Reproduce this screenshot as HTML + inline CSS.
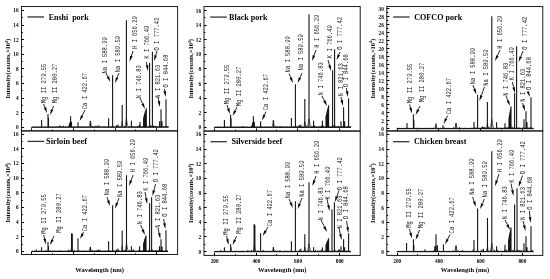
<!DOCTYPE html>
<html><head><meta charset="utf-8"><title>LIBS spectra of meat samples</title>
<style>
html,body{margin:0;padding:0;background:#fff;}
body{width:550px;height:279px;overflow:hidden;}
svg{display:block}
text{font-family:"Liberation Serif","DejaVu Serif",serif;}
.lab{font-family:"Liberation Mono","DejaVu Sans Mono",monospace;font-size:6.80px;fill:#222;}
.tk{font-size:5.3px;font-weight:bold;fill:#000;}
.ttl{font-size:8.4px;font-weight:bold;fill:#000;}
.axl{font-size:6.4px;font-weight:bold;fill:#000;}
.xl{font-size:6.6px;font-weight:bold;fill:#000;}
.fr{fill:none;stroke:#111;stroke-width:0.95;}
.t{stroke:#000;stroke-width:1;}
.spec{fill:none;stroke:#000;stroke-width:0.6;stroke-linejoin:miter;stroke-miterlimit:20;}
.ash{stroke:#000;stroke-width:0.85;}
.bl{stroke:#000;stroke-width:1.0;}
.pk{fill:none;stroke:#151515;stroke-width:1.1;}
.ahd{fill:#000;}
.lg{stroke:#333;stroke-width:1.3;}
</style></head><body>
<svg width="550" height="279" viewBox="0 0 550 279">
<rect width="550" height="279" fill="#fff"/>

<g>
<rect x="21.5" y="6.55" width="156.10" height="124.25" class="fr"/>
<line x1="21.5" y1="127.50" x2="24.1" y2="127.50" class="t"/>
<text x="18.60" y="129.20" text-anchor="end" class="tk">0</text>
<line x1="21.5" y1="119.50" x2="22.8" y2="119.50" class="t"/>
<line x1="21.5" y1="112.50" x2="24.1" y2="112.50" class="t"/>
<text x="18.60" y="114.60" text-anchor="end" class="tk">2</text>
<line x1="21.5" y1="105.50" x2="22.8" y2="105.50" class="t"/>
<line x1="21.5" y1="98.50" x2="24.1" y2="98.50" class="t"/>
<text x="18.60" y="100.00" text-anchor="end" class="tk">4</text>
<line x1="21.5" y1="90.50" x2="22.8" y2="90.50" class="t"/>
<line x1="21.5" y1="83.50" x2="24.1" y2="83.50" class="t"/>
<text x="18.60" y="85.40" text-anchor="end" class="tk">6</text>
<line x1="21.5" y1="76.50" x2="22.8" y2="76.50" class="t"/>
<line x1="21.5" y1="68.50" x2="24.1" y2="68.50" class="t"/>
<text x="18.60" y="70.80" text-anchor="end" class="tk">8</text>
<line x1="21.5" y1="61.50" x2="22.8" y2="61.50" class="t"/>
<line x1="21.5" y1="54.50" x2="24.1" y2="54.50" class="t"/>
<text x="18.60" y="56.20" text-anchor="end" class="tk">10</text>
<line x1="21.5" y1="46.50" x2="22.8" y2="46.50" class="t"/>
<line x1="21.5" y1="39.50" x2="24.1" y2="39.50" class="t"/>
<text x="18.60" y="41.60" text-anchor="end" class="tk">12</text>
<line x1="21.5" y1="32.50" x2="22.8" y2="32.50" class="t"/>
<line x1="21.5" y1="25.50" x2="24.1" y2="25.50" class="t"/>
<text x="18.60" y="27.00" text-anchor="end" class="tk">14</text>
<line x1="21.5" y1="17.50" x2="22.8" y2="17.50" class="t"/>
<line x1="21.5" y1="10.50" x2="24.1" y2="10.50" class="t"/>
<text x="18.60" y="12.40" text-anchor="end" class="tk">16</text>
<line x1="31.50" y1="130.8" x2="31.50" y2="128.30" class="t"/>
<line x1="52.50" y1="130.8" x2="52.50" y2="129.60" class="t"/>
<line x1="73.50" y1="130.8" x2="73.50" y2="128.30" class="t"/>
<line x1="94.50" y1="130.8" x2="94.50" y2="129.60" class="t"/>
<line x1="115.50" y1="130.8" x2="115.50" y2="128.30" class="t"/>
<line x1="135.50" y1="130.8" x2="135.50" y2="129.60" class="t"/>
<line x1="156.50" y1="130.8" x2="156.50" y2="128.30" class="t"/>
<line x1="31.60" y1="127.25" x2="168.60" y2="127.25" class="bl"/><polyline points="31.60,127.90 31.60,126.99 31.85,126.87 32.10,126.91 32.35,127.08 32.60,127.09 32.85,127.08 33.10,126.95 33.35,127.06 33.60,126.88 33.85,126.89 34.10,126.75 34.35,126.79 34.60,127.05 34.85,126.99 35.10,127.03 35.35,126.87 35.60,126.90 35.85,127.08 36.10,126.85 36.35,126.98 36.60,126.93 36.85,126.81 37.10,127.01 37.35,126.90 37.60,126.83 37.85,126.73 38.10,126.94 38.35,127.04 38.60,127.09 38.85,126.81 39.10,126.77 39.35,126.84 39.60,126.88 39.85,126.78 40.10,126.92 40.35,127.08 40.60,126.85 40.85,126.78 41.10,126.95 41.35,127.09 41.60,127.03 41.85,127.08 42.10,127.05 42.35,126.95 42.60,127.07 42.85,126.88 43.10,126.78 43.35,126.99 43.60,126.96 43.85,126.72 44.10,127.03 44.35,127.01 44.60,126.86 44.85,127.10 45.10,126.95 45.35,126.71 45.60,126.89 45.85,126.82 46.10,126.73 46.35,126.74 46.60,126.94 46.85,127.06 47.10,127.07 47.35,127.01 47.60,126.96 47.85,127.10 48.10,127.06 48.35,127.09 48.60,126.84 48.85,126.99 49.10,126.95 49.35,126.74 49.60,126.90 49.85,127.06 50.10,126.95 50.35,126.75 50.60,127.09 50.85,126.87 51.10,126.87 51.35,126.87 51.60,126.73 51.85,126.99 52.10,127.03 52.35,126.87 52.60,126.96 52.85,126.75 53.10,126.73 53.35,126.74 53.60,127.00 53.85,126.94 54.10,127.09 54.35,126.99 54.60,126.68 54.85,126.68 55.10,126.68 55.35,127.00 55.60,127.01 55.85,126.82 56.10,126.72 56.35,126.81 56.60,127.06 56.85,126.69 57.10,126.76 57.35,127.02 57.60,126.95 57.85,126.66 58.10,126.92 58.35,126.77 58.60,127.04 58.85,126.68 59.10,127.03 59.35,126.65 59.60,126.94 59.85,125.58 60.10,126.80 60.35,126.67 60.60,126.69 60.85,127.00 61.10,126.96 61.35,126.82 61.60,126.90 61.85,126.67 62.10,126.88 62.35,126.67 62.60,126.66 62.85,126.85 63.10,127.09 63.35,125.81 63.60,127.02 63.85,126.75 64.10,126.94 64.35,126.83 64.60,127.05 64.85,126.98 65.10,126.73 65.35,126.83 65.60,126.66 65.85,126.80 66.10,126.85 66.35,126.88 66.60,126.87 66.85,126.76 67.10,126.64 67.35,126.82 67.60,126.68 67.85,127.04 68.10,127.06 68.35,127.06 68.60,126.71 68.85,127.02 69.10,126.77 69.35,126.66 69.60,126.71 69.85,125.97 70.10,124.79 70.35,123.14 70.60,121.00 70.85,123.14 71.10,124.79 71.35,125.97 71.60,126.71 71.85,127.06 72.10,126.70 72.35,127.05 72.60,127.08 72.85,126.96 73.10,126.88 73.35,126.68 73.60,127.02 73.85,126.80 74.10,127.05 74.35,126.74 74.60,127.06 74.85,126.77 75.10,127.06 75.35,127.06 75.60,126.86 75.85,126.81 76.10,126.96 76.35,126.82 76.60,127.04 76.85,127.07 77.10,126.93 77.35,126.69 77.60,126.83 77.85,126.54 78.10,127.09 78.35,126.80 78.60,126.84 78.85,127.04 79.10,126.87 79.35,126.65 79.60,126.83 79.85,126.57 80.10,126.65 80.35,126.75 80.60,126.91 80.85,127.03 81.10,126.69 81.35,127.01 81.60,126.64 81.85,126.73 82.10,126.97 82.35,126.85 82.60,126.85 82.85,126.57 83.10,126.80 83.35,126.56 83.60,126.33 83.85,126.83 84.10,126.99 84.35,127.10 84.60,127.05 84.85,126.62 85.10,126.97 85.35,126.80 85.60,126.73 85.85,126.60 86.10,126.91 86.35,127.01 86.60,126.73 86.85,126.62 87.10,126.74 87.35,126.63 87.60,126.80 87.85,126.62 88.10,126.62 88.35,126.58 88.60,126.70 88.85,127.07 89.10,126.83 89.35,126.30 89.60,125.47 89.85,124.31 90.10,122.79 90.35,120.92 90.60,122.09 90.85,123.74 91.10,125.05 91.35,126.01 91.60,126.65 91.85,126.52 92.10,126.87 92.35,126.69 92.60,126.73 92.85,127.05 93.10,126.95 93.35,126.92 93.60,127.09 93.85,126.94 94.10,126.68 94.35,126.92 94.60,126.82 94.85,127.03 95.10,126.98 95.35,125.84 95.60,126.60 95.85,126.83 96.10,126.97 96.35,126.97 96.60,127.01 96.85,126.52 97.10,126.60 97.35,126.56 97.60,126.96 97.85,126.80 98.10,126.80 98.35,126.91 98.60,126.89 98.85,125.45 99.10,126.58 99.35,126.52 99.60,126.54 99.85,126.87 100.10,126.48 100.35,126.87 100.60,126.93 100.85,127.04 101.10,126.92 101.35,126.94 101.60,126.78 101.85,126.86 102.10,126.54 102.35,126.70 102.60,126.50 102.85,126.64 103.10,126.63 103.35,126.62 103.60,126.92 103.85,126.51 104.10,126.80 104.35,126.91 104.60,126.47 104.85,126.68 105.10,126.74 105.35,126.99 105.60,126.97 105.85,126.78 106.10,126.51 106.35,126.81 106.60,126.97 106.85,126.88 107.10,126.94 107.35,126.73 107.60,126.61 107.85,126.83 108.10,126.85 108.35,127.06 108.60,126.46 108.85,126.77 109.10,126.53 109.35,126.92 109.60,126.83 109.85,126.47 110.10,126.47 110.35,126.63 110.60,126.78 110.85,127.10 111.10,126.48 111.35,126.53 111.60,126.93 111.85,127.00 112.10,126.64 112.35,126.61 112.60,126.58 112.85,126.73 113.10,126.57 113.35,126.48 113.60,126.89 113.85,126.93 114.10,126.62 114.35,127.05 114.60,126.70 114.85,126.95 115.10,127.09 115.35,126.78 115.60,126.66 115.85,126.77 116.10,126.93 116.35,126.61 116.60,127.08 116.85,126.63 117.10,126.92 117.35,126.46 117.60,127.08 117.85,126.81 118.10,126.96 118.35,126.58 118.60,126.96 118.85,126.88 119.10,126.94 119.35,126.57 119.60,126.43 119.85,126.97 120.10,126.81 120.35,126.43 120.60,126.82 120.85,126.41 121.10,127.06 121.35,126.63 121.60,125.55 121.85,123.78 122.10,121.24 122.35,121.81 122.60,124.19 122.85,125.82 123.10,126.76 123.35,127.09 123.60,126.85 123.85,127.01 124.10,126.95 124.35,126.51 124.60,126.67 124.85,126.17 125.10,125.46 125.35,124.53 125.60,123.37 125.85,121.97 126.10,120.32 126.35,118.41 126.60,119.59 126.85,121.34 127.10,122.84 127.35,124.10 127.60,125.12 127.85,125.92 128.10,126.42 128.35,126.05 128.60,126.75 128.85,126.39 129.10,126.91 129.35,126.73 129.60,126.96 129.85,126.55 130.10,126.52 130.35,126.86 130.60,126.83 130.85,127.04 131.10,126.54 131.35,126.22 131.60,126.86 131.85,126.44 132.10,126.90 132.35,127.03 132.60,126.56 132.85,126.92 133.10,126.63 133.35,126.53 133.60,126.60 133.85,126.46 134.10,126.67 134.35,126.54 134.60,126.91 134.85,126.98 135.10,126.66 135.35,126.80 135.60,126.71 135.85,126.48 136.10,126.34 136.35,126.73 136.60,126.45 136.85,127.07 137.10,127.01 137.35,126.35 137.60,126.38 137.85,126.43 138.10,126.90 138.35,126.36 138.60,126.64 138.85,126.93 139.10,126.99 139.35,126.90 139.60,126.59 139.85,127.09 140.10,126.57 140.35,126.85 140.60,126.47 140.85,127.05 141.10,126.79 141.35,126.59 141.60,126.97 141.85,126.78 142.10,126.86 142.35,126.85 142.60,126.82 142.85,126.41 143.10,126.81 143.35,126.52 143.60,127.10 143.85,126.76 144.10,126.77 144.35,126.73 144.60,127.09 144.85,126.58 145.10,127.03 145.35,126.80 145.60,126.98 145.85,126.68 146.10,127.01 146.35,126.45 146.60,126.94 146.85,126.33 147.10,126.71 147.35,126.35 147.60,126.36 147.85,126.43 148.10,126.46 148.35,126.77 148.60,126.42 148.85,126.92 149.10,126.67 149.35,127.00 149.60,126.50 149.85,127.07 150.10,125.22 150.35,127.00 150.60,126.64 150.85,126.85 151.10,126.62 151.35,126.55 151.60,125.81 151.85,126.69 152.10,126.46 152.35,126.72 152.60,126.70 152.85,126.99 153.10,127.02 153.35,125.72 153.60,127.03 153.85,126.45 154.10,127.05 154.35,126.78 154.60,126.99 154.85,126.26 155.10,126.41 155.35,126.27 155.60,126.29 155.85,126.96 156.10,126.31 156.35,126.80 156.60,126.96 156.85,126.87 157.10,126.98 157.35,126.31 157.60,126.88 157.85,126.55 158.10,126.96 158.35,126.52 158.60,126.95 158.85,127.00 159.10,126.55 159.35,126.35 159.60,126.60 159.85,127.01 160.10,126.55 160.35,126.41 160.60,126.24 160.85,126.79 161.10,126.72 161.35,125.22 161.60,126.88 161.85,126.24 162.10,126.52 162.35,126.87 162.60,126.56 162.85,126.65 163.10,126.98 163.35,126.52 163.60,126.79 163.85,126.79 164.10,126.59 164.35,126.92 164.60,126.68 164.85,126.27 165.10,126.97 165.35,126.53 165.60,126.41 165.85,125.90 166.10,126.60 166.35,126.52 166.60,126.26 166.85,126.88 167.10,127.06 167.35,126.74 167.60,127.05 167.85,127.09 168.10,126.26 168.35,126.92 168.60,126.64" class="spec"/><path d="M41.60,127.10V119.90 M48.00,127.10V113.90 M48.50,127.10V117.80 M70.60,127.10V116.30 M69.60,127.10V122.80 M71.50,127.10V121.80 M78.00,127.10V122.30 M108.60,127.10V118.30 M112.60,127.10V75.30 M122.20,127.10V104.90 M126.40,127.10V20.30 M131.40,127.10V120.70 M140.00,127.10V121.90 M143.60,127.10V117.45 M144.05,127.10V115.63 M144.50,127.10V114.05 M144.95,127.10V112.55 M145.40,127.10V111.10 M145.85,127.10V109.68 M146.30,127.10V108.30 M149.60,127.10V62.70 M152.40,127.10V51.70 M159.60,127.10V121.30 M161.00,127.10V109.30 M162.00,127.10V121.30 M166.00,127.10V99.30 M116.50,127.10V125.20 M118.00,127.10V124.40 M139.20,127.10V125.00 M60.00,127.10V126.20 M68.80,127.10V125.60 M92.60,127.10V126.10 M97.10,127.10V125.80 M125.60,127.10V125.90 M152.10,127.10V125.40 M155.60,127.10V125.80 M70.60,127.10V121.60 M90.40,127.10V121.10 M122.20,127.10V120.60 M126.40,127.10V118.60" class="pk"/>
<text transform="translate(46.24,103.20) rotate(-90) scale(0.809,1)" x="0" y="0" class="lab">Mg II 279.55</text>
<text transform="translate(57.24,103.20) rotate(-90) scale(0.809,1)" x="0" y="0" class="lab">Mg II 280.27</text>
<text transform="translate(86.74,109.20) rotate(-90) scale(0.809,1)" x="0" y="0" class="lab">Ca I 422.67</text>
<text transform="translate(106.74,73.50) rotate(-90) scale(0.809,1)" x="0" y="0" class="lab">Na I 588.99</text>
<text transform="translate(119.74,72.20) rotate(-90) scale(0.809,1)" x="0" y="0" class="lab">Na I 589.59</text>
<text transform="translate(136.64,49.20) rotate(-90) scale(0.809,1)" x="0" y="0" class="lab">H I 656.29</text>
<text transform="translate(148.74,58.70) rotate(-90) scale(0.809,1)" x="0" y="0" class="lab">K I 766.49</text>
<text transform="translate(159.24,50.50) rotate(-90) scale(0.809,1)" x="0" y="0" class="lab">O I 777.42</text>
<text transform="translate(140.74,98.20) rotate(-90) scale(0.809,1)" x="0" y="0" class="lab">N I 746.83</text>
<text transform="translate(159.74,97.70) rotate(-90) scale(0.809,1)" x="0" y="0" class="lab">N I 821.63</text>
<text transform="translate(167.54,87.50) rotate(-90) scale(0.809,1)" x="0" y="0" class="lab">O I 844.68</text>
<line x1="43.60" y1="104.00" x2="44.95" y2="107.57" class="ash"/><polygon points="47.00,113.00 43.73,108.03 46.17,107.11" class="ahd"/>
<line x1="53.60" y1="106.00" x2="52.15" y2="109.61" class="ash"/><polygon points="50.00,115.00 50.95,109.13 53.36,110.10" class="ahd"/>
<line x1="85.00" y1="110.00" x2="82.16" y2="115.79" class="ash"/><polygon points="79.60,121.00 80.99,115.22 83.32,116.37" class="ahd"/>
<line x1="106.00" y1="73.00" x2="107.85" y2="76.79" class="ash"/><polygon points="110.40,82.00 106.68,77.36 109.02,76.22" class="ahd"/>
<line x1="119.00" y1="73.00" x2="117.15" y2="77.61" class="ash"/><polygon points="115.00,83.00 115.95,77.13 118.36,78.10" class="ahd"/>
<line x1="133.00" y1="51.00" x2="131.37" y2="56.08" class="ash"/><polygon points="129.60,61.60 130.13,55.68 132.61,56.47" class="ahd"/>
<line x1="146.40" y1="62.00" x2="146.98" y2="65.29" class="ash"/><polygon points="148.00,71.00 145.70,65.52 148.26,65.06" class="ahd"/>
<line x1="157.00" y1="51.00" x2="155.67" y2="55.44" class="ash"/><polygon points="154.00,61.00 154.42,55.07 156.91,55.82" class="ahd"/>
<line x1="140.00" y1="98.00" x2="142.60" y2="103.72" class="ash"/><polygon points="145.00,109.00 141.42,104.26 143.78,103.18" class="ahd"/>
<line x1="158.00" y1="97.00" x2="158.86" y2="101.31" class="ash"/><polygon points="160.00,107.00 157.59,101.57 160.14,101.06" class="ahd"/>
<line x1="164.40" y1="89.00" x2="164.74" y2="91.26" class="ash"/><polygon points="165.60,97.00 163.45,91.46 166.03,91.07" class="ahd"/>
<line x1="27.5" y1="16.95" x2="44" y2="16.95" class="lg"/>
<text x="48.7" y="20.0" textLength="39.9" lengthAdjust="spacingAndGlyphs" class="ttl">Enshi&#160;&#160;pork</text>
<text transform="translate(10.4,68.68) rotate(-90)" text-anchor="middle" textLength="59.5" lengthAdjust="spacingAndGlyphs" class="axl">Intensity(counts,×10<tspan dy="-2.2" font-size="4">4</tspan><tspan dy="2.2">)</tspan></text>
</g>
<g>
<rect x="204.0" y="6.55" width="156.20" height="124.45" class="fr"/>
<line x1="204.0" y1="127.50" x2="206.6" y2="127.50" class="t"/>
<text x="201.10" y="129.30" text-anchor="end" class="tk">0</text>
<line x1="204.0" y1="120.50" x2="205.3" y2="120.50" class="t"/>
<line x1="204.0" y1="112.50" x2="206.6" y2="112.50" class="t"/>
<text x="201.10" y="114.70" text-anchor="end" class="tk">2</text>
<line x1="204.0" y1="105.50" x2="205.3" y2="105.50" class="t"/>
<line x1="204.0" y1="98.50" x2="206.6" y2="98.50" class="t"/>
<text x="201.10" y="100.10" text-anchor="end" class="tk">4</text>
<line x1="204.0" y1="90.50" x2="205.3" y2="90.50" class="t"/>
<line x1="204.0" y1="83.50" x2="206.6" y2="83.50" class="t"/>
<text x="201.10" y="85.50" text-anchor="end" class="tk">6</text>
<line x1="204.0" y1="76.50" x2="205.3" y2="76.50" class="t"/>
<line x1="204.0" y1="68.50" x2="206.6" y2="68.50" class="t"/>
<text x="201.10" y="70.90" text-anchor="end" class="tk">8</text>
<line x1="204.0" y1="61.50" x2="205.3" y2="61.50" class="t"/>
<line x1="204.0" y1="54.50" x2="206.6" y2="54.50" class="t"/>
<text x="201.10" y="56.30" text-anchor="end" class="tk">10</text>
<line x1="204.0" y1="47.50" x2="205.3" y2="47.50" class="t"/>
<line x1="204.0" y1="39.50" x2="206.6" y2="39.50" class="t"/>
<text x="201.10" y="41.70" text-anchor="end" class="tk">12</text>
<line x1="204.0" y1="32.50" x2="205.3" y2="32.50" class="t"/>
<line x1="204.0" y1="25.50" x2="206.6" y2="25.50" class="t"/>
<text x="201.10" y="27.10" text-anchor="end" class="tk">14</text>
<line x1="204.0" y1="17.50" x2="205.3" y2="17.50" class="t"/>
<line x1="204.0" y1="10.50" x2="206.6" y2="10.50" class="t"/>
<text x="201.10" y="12.50" text-anchor="end" class="tk">16</text>
<line x1="214.50" y1="131.0" x2="214.50" y2="128.50" class="t"/>
<line x1="235.50" y1="131.0" x2="235.50" y2="129.80" class="t"/>
<line x1="256.50" y1="131.0" x2="256.50" y2="128.50" class="t"/>
<line x1="276.50" y1="131.0" x2="276.50" y2="129.80" class="t"/>
<line x1="297.50" y1="131.0" x2="297.50" y2="128.50" class="t"/>
<line x1="318.50" y1="131.0" x2="318.50" y2="129.80" class="t"/>
<line x1="339.50" y1="131.0" x2="339.50" y2="128.50" class="t"/>
<line x1="214.40" y1="127.35" x2="351.00" y2="127.35" class="bl"/><polyline points="214.40,128.00 214.40,126.92 214.65,127.09 214.90,127.18 215.15,126.92 215.40,127.20 215.65,126.94 215.90,126.94 216.15,127.12 216.40,127.12 216.65,127.08 216.90,126.95 217.15,126.94 217.40,127.00 217.65,126.91 217.90,127.10 218.15,126.85 218.40,126.88 218.65,127.10 218.90,126.93 219.15,126.92 219.40,126.87 219.65,127.11 219.90,126.97 220.15,126.95 220.40,127.02 220.65,126.94 220.90,127.04 221.15,126.98 221.40,127.12 221.65,127.17 221.90,127.15 222.15,127.16 222.40,127.07 222.65,127.19 222.90,126.93 223.15,126.93 223.40,127.17 223.65,127.06 223.90,126.88 224.15,127.17 224.40,126.84 224.65,127.16 224.90,127.16 225.15,126.87 225.40,126.95 225.65,126.95 225.90,127.16 226.15,126.90 226.40,127.07 226.65,127.19 226.90,127.09 227.15,127.05 227.40,126.81 227.65,126.86 227.90,127.19 228.15,127.02 228.40,127.06 228.65,126.98 228.90,126.85 229.15,126.86 229.40,127.20 229.65,126.89 229.90,127.20 230.15,127.00 230.40,127.12 230.65,127.06 230.90,127.09 231.15,127.08 231.40,126.91 231.65,127.15 231.90,127.17 232.15,126.91 232.40,126.93 232.65,127.03 232.90,126.82 233.15,126.82 233.40,127.11 233.65,126.81 233.90,127.04 234.15,127.10 234.40,126.97 234.65,126.88 234.90,127.05 235.15,127.13 235.40,126.91 235.65,127.13 235.90,126.86 236.15,127.14 236.40,126.81 236.65,127.12 236.90,126.89 237.15,127.13 237.40,127.09 237.65,126.97 237.90,127.05 238.15,126.77 238.40,127.15 238.65,127.15 238.90,126.76 239.15,126.87 239.40,127.11 239.65,127.15 239.90,127.02 240.15,127.02 240.40,126.88 240.65,126.91 240.90,127.14 241.15,127.01 241.40,126.78 241.65,126.94 241.90,127.01 242.15,126.87 242.40,126.84 242.65,126.80 242.90,126.90 243.15,127.05 243.40,127.15 243.65,126.83 243.90,126.90 244.15,127.00 244.40,126.91 244.65,126.88 244.90,127.11 245.15,126.83 245.40,126.97 245.65,127.18 245.90,127.12 246.15,126.75 246.40,127.15 246.65,126.94 246.90,126.95 247.15,126.80 247.40,127.00 247.65,127.10 247.90,127.01 248.15,127.14 248.40,127.03 248.65,127.07 248.90,127.19 249.15,126.99 249.40,127.03 249.65,127.09 249.90,126.74 250.15,127.09 250.40,127.01 250.65,127.14 250.90,126.80 251.15,126.97 251.40,127.09 251.65,127.02 251.90,126.79 252.15,126.97 252.40,126.81 252.65,126.05 252.90,124.85 253.15,123.18 253.40,121.00 253.65,123.18 253.90,124.85 254.15,126.05 254.40,126.81 254.65,126.86 254.90,126.72 255.15,127.17 255.40,126.73 255.65,127.13 255.90,126.86 256.15,126.71 256.40,127.07 256.65,127.13 256.90,126.80 257.15,127.12 257.40,126.79 257.65,126.73 257.90,126.79 258.15,126.73 258.40,126.76 258.65,126.83 258.90,126.81 259.15,126.73 259.40,127.06 259.65,127.13 259.90,127.17 260.15,127.12 260.40,126.93 260.65,125.48 260.90,126.95 261.15,126.84 261.40,127.00 261.65,126.68 261.90,126.86 262.15,127.18 262.40,126.83 262.65,127.02 262.90,126.92 263.15,126.71 263.40,126.81 263.65,127.01 263.90,127.00 264.15,126.91 264.40,127.08 264.65,126.97 264.90,126.74 265.15,126.74 265.40,126.92 265.65,126.92 265.90,126.84 266.15,127.02 266.40,127.03 266.65,126.84 266.90,127.18 267.15,126.70 267.40,127.17 267.65,127.20 267.90,126.68 268.15,126.83 268.40,126.68 268.65,126.85 268.90,126.80 269.15,126.81 269.40,126.82 269.65,126.76 269.90,127.10 270.15,126.76 270.40,126.82 270.65,126.73 270.90,126.88 271.15,127.03 271.40,127.02 271.65,126.83 271.90,127.14 272.15,126.81 272.40,126.18 272.65,125.20 272.90,123.85 273.15,122.13 273.40,120.00 273.65,122.13 273.90,123.85 274.15,125.20 274.40,126.18 274.65,126.63 274.90,126.68 275.15,127.19 275.40,127.06 275.65,127.09 275.90,126.74 276.15,126.69 276.40,127.15 276.65,126.77 276.90,126.64 277.15,126.62 277.40,126.22 277.65,126.71 277.90,127.01 278.15,127.10 278.40,126.90 278.65,126.98 278.90,126.93 279.15,127.11 279.40,126.98 279.65,126.81 279.90,126.96 280.15,126.62 280.40,126.85 280.65,127.16 280.90,126.77 281.15,126.99 281.40,126.59 281.65,126.83 281.90,126.93 282.15,126.97 282.40,126.82 282.65,126.70 282.90,127.20 283.15,126.94 283.40,126.69 283.65,127.17 283.90,126.69 284.15,126.84 284.40,126.66 284.65,126.77 284.90,126.98 285.15,126.85 285.40,127.07 285.65,126.61 285.90,126.81 286.15,126.90 286.40,127.04 286.65,126.69 286.90,127.14 287.15,126.70 287.40,126.83 287.65,126.63 287.90,126.89 288.15,127.08 288.40,127.08 288.65,126.96 288.90,126.94 289.15,127.10 289.40,126.55 289.65,127.13 289.90,126.69 290.15,126.81 290.40,126.81 290.65,126.55 290.90,126.88 291.15,127.03 291.40,126.92 291.65,126.69 291.90,126.56 292.15,127.17 292.40,127.08 292.65,127.17 292.90,126.62 293.15,126.57 293.40,127.16 293.65,126.93 293.90,126.56 294.15,126.82 294.40,126.56 294.65,126.94 294.90,127.09 295.15,126.53 295.40,127.17 295.65,126.96 295.90,126.59 296.15,127.17 296.40,126.72 296.65,126.53 296.90,127.10 297.15,126.56 297.40,127.00 297.65,126.68 297.90,126.98 298.15,127.11 298.40,127.08 298.65,127.10 298.90,127.19 299.15,125.67 299.40,127.05 299.65,126.60 299.90,127.10 300.15,127.13 300.40,126.61 300.65,126.88 300.90,126.63 301.15,126.76 301.40,127.04 301.65,126.70 301.90,127.10 302.15,127.01 302.40,127.09 302.65,126.61 302.90,127.08 303.15,126.98 303.40,127.12 303.65,127.16 303.90,126.73 304.15,125.91 304.40,124.25 304.65,121.83 304.90,121.25 305.15,123.83 305.40,125.63 305.65,126.68 305.90,125.29 306.15,126.95 306.40,127.20 306.65,126.82 306.90,126.89 307.15,126.84 307.40,126.38 307.65,125.71 307.90,124.81 308.15,123.68 308.40,122.31 308.65,120.70 308.90,118.82 309.15,119.22 309.40,121.04 309.65,122.61 309.90,123.93 310.15,125.01 310.40,125.86 310.65,126.49 310.90,126.85 311.15,127.00 311.40,126.58 311.65,127.08 311.90,125.98 312.15,126.87 312.40,127.11 312.65,126.59 312.90,126.96 313.15,126.91 313.40,127.15 313.65,126.48 313.90,126.81 314.15,125.34 314.40,127.03 314.65,127.12 314.90,126.44 315.15,126.67 315.40,127.19 315.65,126.76 315.90,126.67 316.15,126.54 316.40,127.17 316.65,126.82 316.90,126.99 317.15,126.89 317.40,126.75 317.65,127.09 317.90,126.63 318.15,126.57 318.40,126.90 318.65,126.55 318.90,126.90 319.15,126.60 319.40,127.01 319.65,126.86 319.90,126.58 320.15,126.57 320.40,127.16 320.65,126.45 320.90,127.01 321.15,126.71 321.40,126.79 321.65,126.86 321.90,127.18 322.15,126.44 322.40,126.46 322.65,126.56 322.90,125.54 323.15,126.99 323.40,126.98 323.65,126.47 323.90,127.00 324.15,126.86 324.40,126.97 324.65,126.69 324.90,126.73 325.15,126.79 325.40,126.83 325.65,127.08 325.90,127.10 326.15,126.87 326.40,127.01 326.65,126.76 326.90,126.71 327.15,126.68 327.40,126.63 327.65,126.76 327.90,126.82 328.15,127.00 328.40,126.79 328.65,126.20 328.90,126.50 329.15,126.75 329.40,126.97 329.65,126.96 329.90,127.07 330.15,126.49 330.40,127.15 330.65,126.84 330.90,127.11 331.15,126.41 331.40,127.07 331.65,126.91 331.90,126.69 332.15,126.52 332.40,126.59 332.65,126.57 332.90,126.55 333.15,126.44 333.40,125.33 333.65,126.71 333.90,126.40 334.15,126.85 334.40,126.47 334.65,126.88 334.90,126.82 335.15,126.96 335.40,126.74 335.65,126.93 335.90,126.49 336.15,126.83 336.40,126.94 336.65,126.72 336.90,127.13 337.15,126.93 337.40,126.49 337.65,127.03 337.90,126.36 338.15,126.72 338.40,126.42 338.65,126.74 338.90,126.76 339.15,126.62 339.40,126.89 339.65,126.90 339.90,126.62 340.15,127.12 340.40,126.86 340.65,126.71 340.90,126.37 341.15,126.82 341.40,126.34 341.65,126.74 341.90,127.05 342.15,126.35 342.40,126.76 342.65,126.43 342.90,126.49 343.15,126.43 343.40,127.06 343.65,126.75 343.90,127.04 344.15,126.65 344.40,126.89 344.65,126.03 344.90,126.51 345.15,126.14 345.40,126.46 345.65,126.61 345.90,126.76 346.15,126.97 346.40,126.73 346.65,126.69 346.90,127.09 347.15,126.53 347.40,127.11 347.65,126.74 347.90,126.66 348.15,125.99 348.40,126.91 348.65,126.88 348.90,126.96 349.15,126.39 349.40,126.89 349.65,126.86 349.90,126.40 350.15,126.34 350.40,126.64 350.65,127.16 350.90,126.43" class="spec"/><path d="M224.40,127.20V119.90 M230.60,127.20V114.70 M231.10,127.20V118.30 M253.40,127.20V116.30 M252.40,127.20V122.80 M254.30,127.20V121.80 M260.60,127.20V121.30 M291.40,127.20V117.90 M295.40,127.20V84.30 M304.80,127.20V99.10 M309.00,127.20V14.30 M313.60,127.20V120.70 M322.40,127.20V120.70 M326.00,127.20V115.95 M326.52,127.20V113.45 M327.04,127.20V111.28 M327.56,127.20V109.23 M328.08,127.20V107.24 M328.60,127.20V105.30 M332.60,127.20V70.30 M334.60,127.20V49.30 M341.00,127.20V121.30 M343.60,127.20V107.30 M344.60,127.20V121.30 M348.60,127.20V98.30 M299.30,127.20V125.30 M300.80,127.20V124.50 M322.00,127.20V125.10 M242.80,127.20V126.30 M251.60,127.20V125.70 M275.40,127.20V126.20 M279.90,127.20V125.90 M308.40,127.20V126.00 M334.90,127.20V125.50 M338.40,127.20V125.90 M253.40,127.20V121.60 M273.40,127.20V120.60 M304.80,127.20V120.60 M309.00,127.20V118.60" class="pk"/>
<text transform="translate(229.24,104.20) rotate(-90) scale(0.809,1)" x="0" y="0" class="lab">Mg II 279.55</text>
<text transform="translate(240.74,106.20) rotate(-90) scale(0.809,1)" x="0" y="0" class="lab">Mg II 280.27</text>
<text transform="translate(268.24,110.20) rotate(-90) scale(0.809,1)" x="0" y="0" class="lab">Ca I 422.67</text>
<text transform="translate(289.84,72.40) rotate(-90) scale(0.809,1)" x="0" y="0" class="lab">Na I 588.99</text>
<text transform="translate(303.24,70.50) rotate(-90) scale(0.809,1)" x="0" y="0" class="lab">Na I 589.59</text>
<text transform="translate(318.74,47.70) rotate(-90) scale(0.809,1)" x="0" y="0" class="lab">H I 656.29</text>
<text transform="translate(331.74,58.20) rotate(-90) scale(0.809,1)" x="0" y="0" class="lab">K I 766.49</text>
<text transform="translate(342.24,49.80) rotate(-90) scale(0.809,1)" x="0" y="0" class="lab">O I 777.42</text>
<text transform="translate(323.24,95.20) rotate(-90) scale(0.809,1)" x="0" y="0" class="lab">N I 746.83</text>
<text transform="translate(342.74,96.20) rotate(-90) scale(0.809,1)" x="0" y="0" class="lab">N I 821.63</text>
<text transform="translate(348.24,87.20) rotate(-90) scale(0.809,1)" x="0" y="0" class="lab">O I 844.68</text>
<line x1="227.00" y1="105.00" x2="228.17" y2="108.50" class="ash"/><polygon points="230.00,114.00 226.93,108.91 229.40,108.09" class="ahd"/>
<line x1="237.00" y1="107.00" x2="235.15" y2="110.79" class="ash"/><polygon points="232.60,116.00 233.98,110.22 236.32,111.36" class="ahd"/>
<line x1="266.00" y1="111.60" x2="264.40" y2="115.12" class="ash"/><polygon points="262.00,120.40 263.22,114.58 265.58,115.66" class="ahd"/>
<line x1="289.00" y1="73.60" x2="290.73" y2="77.66" class="ash"/><polygon points="293.00,83.00 289.53,78.17 291.93,77.15" class="ahd"/>
<line x1="302.00" y1="73.00" x2="299.94" y2="77.69" class="ash"/><polygon points="297.60,83.00 298.75,77.17 301.13,78.21" class="ahd"/>
<line x1="316.00" y1="50.00" x2="313.98" y2="55.55" class="ash"/><polygon points="312.00,61.00 312.76,55.10 315.20,55.99" class="ahd"/>
<line x1="328.00" y1="60.00" x2="329.47" y2="65.40" class="ash"/><polygon points="331.00,71.00 328.22,65.75 330.73,65.06" class="ahd"/>
<line x1="340.00" y1="52.00" x2="338.87" y2="54.66" class="ash"/><polygon points="336.60,60.00 337.67,54.15 340.07,55.17" class="ahd"/>
<line x1="322.00" y1="96.00" x2="324.41" y2="100.81" class="ash"/><polygon points="327.00,106.00 323.24,101.39 325.57,100.23" class="ahd"/>
<line x1="341.00" y1="97.00" x2="341.74" y2="100.34" class="ash"/><polygon points="343.00,106.00 340.47,100.62 343.01,100.06" class="ahd"/>
<line x1="346.40" y1="88.00" x2="346.98" y2="91.29" class="ash"/><polygon points="348.00,97.00 345.70,91.52 348.26,91.06" class="ahd"/>
<line x1="210.1" y1="17.1" x2="226.9" y2="17.1" class="lg"/>
<text x="229" y="20.1" textLength="38.4" lengthAdjust="spacingAndGlyphs" class="ttl">Black pork</text>
<text transform="translate(193.0,68.78) rotate(-90)" text-anchor="middle" textLength="59.5" lengthAdjust="spacingAndGlyphs" class="axl">Intensity(counts,×10<tspan dy="-2.2" font-size="4">4</tspan><tspan dy="2.2">)</tspan></text>
</g>
<g>
<rect x="386.8" y="6.55" width="156.00" height="124.35" class="fr"/>
<line x1="386.8" y1="128.50" x2="389.40000000000003" y2="128.50" class="t"/>
<text x="383.90" y="130.60" text-anchor="end" class="tk">0</text>
<line x1="386.8" y1="124.50" x2="388.1" y2="124.50" class="t"/>
<line x1="386.8" y1="120.50" x2="389.40000000000003" y2="120.50" class="t"/>
<text x="383.90" y="122.60" text-anchor="end" class="tk">2</text>
<line x1="386.8" y1="116.50" x2="388.1" y2="116.50" class="t"/>
<line x1="386.8" y1="112.50" x2="389.40000000000003" y2="112.50" class="t"/>
<text x="383.90" y="114.60" text-anchor="end" class="tk">4</text>
<line x1="386.8" y1="108.50" x2="388.1" y2="108.50" class="t"/>
<line x1="386.8" y1="104.50" x2="389.40000000000003" y2="104.50" class="t"/>
<text x="383.90" y="106.60" text-anchor="end" class="tk">6</text>
<line x1="386.8" y1="100.50" x2="388.1" y2="100.50" class="t"/>
<line x1="386.8" y1="96.50" x2="389.40000000000003" y2="96.50" class="t"/>
<text x="383.90" y="98.60" text-anchor="end" class="tk">8</text>
<line x1="386.8" y1="92.50" x2="388.1" y2="92.50" class="t"/>
<line x1="386.8" y1="88.50" x2="389.40000000000003" y2="88.50" class="t"/>
<text x="383.90" y="90.60" text-anchor="end" class="tk">10</text>
<line x1="386.8" y1="84.50" x2="388.1" y2="84.50" class="t"/>
<line x1="386.8" y1="80.50" x2="389.40000000000003" y2="80.50" class="t"/>
<text x="383.90" y="82.60" text-anchor="end" class="tk">12</text>
<line x1="386.8" y1="76.50" x2="388.1" y2="76.50" class="t"/>
<line x1="386.8" y1="72.50" x2="389.40000000000003" y2="72.50" class="t"/>
<text x="383.90" y="74.60" text-anchor="end" class="tk">14</text>
<line x1="386.8" y1="68.50" x2="388.1" y2="68.50" class="t"/>
<line x1="386.8" y1="64.50" x2="389.40000000000003" y2="64.50" class="t"/>
<text x="383.90" y="66.60" text-anchor="end" class="tk">16</text>
<line x1="386.8" y1="60.50" x2="388.1" y2="60.50" class="t"/>
<line x1="386.8" y1="56.50" x2="389.40000000000003" y2="56.50" class="t"/>
<text x="383.90" y="58.60" text-anchor="end" class="tk">18</text>
<line x1="386.8" y1="52.50" x2="388.1" y2="52.50" class="t"/>
<line x1="386.8" y1="48.50" x2="389.40000000000003" y2="48.50" class="t"/>
<text x="383.90" y="50.60" text-anchor="end" class="tk">20</text>
<line x1="386.8" y1="44.50" x2="388.1" y2="44.50" class="t"/>
<line x1="386.8" y1="40.50" x2="389.40000000000003" y2="40.50" class="t"/>
<text x="383.90" y="42.60" text-anchor="end" class="tk">22</text>
<line x1="386.8" y1="36.50" x2="388.1" y2="36.50" class="t"/>
<line x1="386.8" y1="32.50" x2="389.40000000000003" y2="32.50" class="t"/>
<text x="383.90" y="34.60" text-anchor="end" class="tk">24</text>
<line x1="386.8" y1="28.50" x2="388.1" y2="28.50" class="t"/>
<line x1="386.8" y1="24.50" x2="389.40000000000003" y2="24.50" class="t"/>
<text x="383.90" y="26.60" text-anchor="end" class="tk">26</text>
<line x1="386.8" y1="20.50" x2="388.1" y2="20.50" class="t"/>
<line x1="386.8" y1="16.50" x2="389.40000000000003" y2="16.50" class="t"/>
<text x="383.90" y="18.60" text-anchor="end" class="tk">28</text>
<line x1="386.8" y1="12.50" x2="388.1" y2="12.50" class="t"/>
<line x1="386.8" y1="8.50" x2="389.40000000000003" y2="8.50" class="t"/>
<text x="383.90" y="10.60" text-anchor="end" class="tk">30</text>
<line x1="397.50" y1="130.9" x2="397.50" y2="128.40" class="t"/>
<line x1="417.50" y1="130.9" x2="417.50" y2="129.70" class="t"/>
<line x1="438.50" y1="130.9" x2="438.50" y2="128.40" class="t"/>
<line x1="459.50" y1="130.9" x2="459.50" y2="129.70" class="t"/>
<line x1="480.50" y1="130.9" x2="480.50" y2="128.40" class="t"/>
<line x1="501.50" y1="130.9" x2="501.50" y2="129.70" class="t"/>
<line x1="522.50" y1="130.9" x2="522.50" y2="128.40" class="t"/>
<line x1="397.00" y1="128.65" x2="533.60" y2="128.65" class="bl"/><polyline points="397.00,129.30 397.00,128.19 397.25,128.39 397.50,128.16 397.75,128.16 398.00,128.36 398.25,128.42 398.50,128.19 398.75,128.22 399.00,128.44 399.25,128.43 399.50,128.40 399.75,128.46 400.00,128.36 400.25,128.48 400.50,128.20 400.75,128.41 401.00,128.40 401.25,128.49 401.50,128.37 401.75,128.24 402.00,128.40 402.25,128.45 402.50,128.19 402.75,128.44 403.00,128.23 403.25,128.14 403.50,128.14 403.75,128.41 404.00,128.45 404.25,128.40 404.50,128.28 404.75,128.41 405.00,128.42 405.25,128.45 405.50,128.29 405.75,128.20 406.00,128.25 406.25,128.38 406.50,128.47 406.75,128.17 407.00,128.24 407.25,128.28 407.50,128.30 407.75,128.47 408.00,128.41 408.25,128.22 408.50,128.34 408.75,128.19 409.00,128.16 409.25,128.39 409.50,128.23 409.75,128.36 410.00,128.23 410.25,128.40 410.50,128.36 410.75,128.43 411.00,128.13 411.25,128.21 411.50,128.48 411.75,128.42 412.00,128.34 412.25,128.37 412.50,128.43 412.75,128.26 413.00,128.39 413.25,128.22 413.50,128.50 413.75,128.18 414.00,128.48 414.25,128.25 414.50,128.40 414.75,128.17 415.00,128.11 415.25,128.46 415.50,128.33 415.75,128.15 416.00,128.46 416.25,128.32 416.50,128.20 416.75,128.14 417.00,128.31 417.25,128.20 417.50,128.28 417.75,128.44 418.00,128.48 418.25,128.15 418.50,128.26 418.75,128.22 419.00,128.39 419.25,128.34 419.50,128.41 419.75,128.44 420.00,128.20 420.25,128.39 420.50,128.30 420.75,128.34 421.00,128.10 421.25,128.25 421.50,128.13 421.75,128.16 422.00,128.20 422.25,128.29 422.50,128.12 422.75,128.37 423.00,128.41 423.25,128.37 423.50,128.18 423.75,128.45 424.00,128.29 424.25,128.42 424.50,128.50 424.75,128.15 425.00,128.17 425.25,128.24 425.50,128.27 425.75,128.41 426.00,128.50 426.25,128.20 426.50,128.06 426.75,128.38 427.00,128.43 427.25,128.13 427.50,128.36 427.75,128.20 428.00,128.06 428.25,128.13 428.50,128.15 428.75,128.41 429.00,128.35 429.25,128.24 429.50,128.10 429.75,128.48 430.00,128.20 430.25,128.16 430.50,128.04 430.75,128.26 431.00,128.35 431.25,128.46 431.50,128.42 431.75,128.02 432.00,128.48 432.25,128.41 432.50,128.50 432.75,128.08 433.00,128.29 433.25,128.17 433.50,128.29 433.75,128.28 434.00,128.09 434.25,128.42 434.50,128.28 434.75,128.33 435.00,128.28 435.25,127.85 435.50,127.18 435.75,126.23 436.00,125.00 436.25,126.23 436.50,127.18 436.75,127.85 437.00,128.25 437.25,128.35 437.50,128.05 437.75,128.40 438.00,128.27 438.25,128.16 438.50,128.20 438.75,128.23 439.00,128.29 439.25,128.41 439.50,128.21 439.75,128.05 440.00,128.45 440.25,128.37 440.50,128.21 440.75,128.20 441.00,128.23 441.25,128.46 441.50,128.46 441.75,128.04 442.00,128.12 442.25,128.44 442.50,128.12 442.75,128.06 443.00,128.41 443.25,128.20 443.50,128.43 443.75,128.47 444.00,127.41 444.25,128.38 444.50,128.12 444.75,128.02 445.00,128.03 445.25,128.00 445.50,128.41 445.75,128.31 446.00,128.13 446.25,128.43 446.50,128.10 446.75,128.10 447.00,128.17 447.25,128.20 447.50,128.44 447.75,128.13 448.00,128.39 448.25,128.03 448.50,128.27 448.75,128.05 449.00,128.19 449.25,128.11 449.50,128.42 449.75,128.20 450.00,128.04 450.25,128.49 450.50,128.41 450.75,128.01 451.00,128.48 451.25,128.03 451.50,128.28 451.75,128.41 452.00,128.28 452.25,128.15 452.50,128.31 452.75,127.99 453.00,128.47 453.25,128.29 453.50,128.17 453.75,127.43 454.00,127.62 454.25,127.93 454.50,128.42 454.75,128.20 455.00,127.72 455.25,126.97 455.50,125.94 455.75,124.62 456.00,123.00 456.25,124.62 456.50,125.94 456.75,126.97 457.00,127.72 457.25,128.10 457.50,128.05 457.75,128.20 458.00,128.29 458.25,128.26 458.50,128.30 458.75,127.91 459.00,128.28 459.25,128.36 459.50,127.11 459.75,128.23 460.00,128.16 460.25,128.40 460.50,128.32 460.75,128.06 461.00,127.93 461.25,127.94 461.50,128.45 461.75,128.15 462.00,128.28 462.25,128.24 462.50,128.46 462.75,127.95 463.00,128.09 463.25,128.33 463.50,128.37 463.75,128.38 464.00,127.96 464.25,128.38 464.50,127.90 464.75,128.45 465.00,127.95 465.25,128.41 465.50,128.16 465.75,128.10 466.00,128.37 466.25,128.03 466.50,128.24 466.75,128.29 467.00,128.24 467.25,128.10 467.50,128.19 467.75,128.34 468.00,128.49 468.25,128.14 468.50,128.46 468.75,128.04 469.00,128.44 469.25,128.41 469.50,128.44 469.75,128.23 470.00,128.12 470.25,128.08 470.50,128.29 470.75,128.33 471.00,128.01 471.25,128.30 471.50,127.86 471.75,128.32 472.00,127.89 472.25,128.49 472.50,128.07 472.75,128.26 473.00,128.35 473.25,128.24 473.50,128.46 473.75,128.13 474.00,127.88 474.25,128.40 474.50,128.01 474.75,127.23 475.00,128.34 475.25,128.17 475.50,128.27 475.75,128.19 476.00,127.90 476.25,128.01 476.50,128.07 476.75,127.92 477.00,128.12 477.25,127.88 477.50,128.08 477.75,128.33 478.00,128.21 478.25,128.36 478.50,128.06 478.75,127.82 479.00,128.11 479.25,127.91 479.50,128.32 479.75,127.94 480.00,128.27 480.25,127.89 480.50,128.03 480.75,128.19 481.00,127.89 481.25,127.89 481.50,127.96 481.75,128.37 482.00,127.81 482.25,128.48 482.50,126.46 482.75,128.40 483.00,128.43 483.25,128.02 483.50,128.26 483.75,128.00 484.00,127.46 484.25,127.94 484.50,128.47 484.75,128.34 485.00,126.94 485.25,128.28 485.50,128.41 485.75,128.40 486.00,128.37 486.25,128.40 486.50,128.14 486.75,127.33 487.00,125.84 487.25,123.65 487.50,123.13 487.75,125.46 488.00,127.09 488.25,128.07 488.50,128.21 488.75,127.21 489.00,128.03 489.25,128.10 489.50,127.79 489.75,127.98 490.00,128.05 490.25,127.53 490.50,126.79 490.75,125.82 491.00,124.61 491.25,123.14 491.50,121.42 491.75,119.43 492.00,120.66 492.25,122.48 492.50,124.05 492.75,125.36 493.00,126.43 493.25,126.66 493.50,127.87 493.75,128.06 494.00,128.33 494.25,127.95 494.50,127.97 494.75,128.11 495.00,128.00 495.25,128.03 495.50,128.33 495.75,128.30 496.00,128.15 496.25,128.11 496.50,128.33 496.75,127.80 497.00,128.11 497.25,127.89 497.50,128.37 497.75,128.15 498.00,127.87 498.25,127.84 498.50,128.21 498.75,127.88 499.00,128.38 499.25,128.42 499.50,127.89 499.75,128.15 500.00,128.20 500.25,127.97 500.50,128.13 500.75,127.92 501.00,127.98 501.25,128.10 501.50,128.21 501.75,127.90 502.00,128.06 502.25,128.36 502.50,128.29 502.75,128.31 503.00,128.43 503.25,127.83 503.50,128.17 503.75,128.02 504.00,128.47 504.25,128.21 504.50,128.27 504.75,127.99 505.00,128.22 505.25,128.05 505.50,128.35 505.75,127.94 506.00,127.97 506.25,128.44 506.50,128.20 506.75,128.11 507.00,127.01 507.25,128.13 507.50,127.83 507.75,128.12 508.00,128.15 508.25,128.09 508.50,127.96 508.75,127.16 509.00,128.06 509.25,127.88 509.50,128.32 509.75,127.84 510.00,128.43 510.25,128.05 510.50,127.95 510.75,128.11 511.00,127.94 511.25,128.03 511.50,127.84 511.75,128.38 512.00,126.60 512.25,128.28 512.50,128.24 512.75,127.80 513.00,128.08 513.25,128.46 513.50,127.79 513.75,127.80 514.00,128.33 514.25,128.06 514.50,128.12 514.75,128.02 515.00,127.84 515.25,127.74 515.50,128.46 515.75,128.06 516.00,128.03 516.25,128.27 516.50,128.26 516.75,127.83 517.00,128.12 517.25,128.13 517.50,128.45 517.75,127.97 518.00,127.78 518.25,128.00 518.50,127.73 518.75,127.83 519.00,127.93 519.25,128.25 519.50,127.79 519.75,127.73 520.00,128.41 520.25,127.84 520.50,128.15 520.75,128.28 521.00,127.92 521.25,128.45 521.50,128.46 521.75,128.25 522.00,128.00 522.25,128.02 522.50,127.72 522.75,127.78 523.00,127.81 523.25,127.59 523.50,127.95 523.75,128.03 524.00,128.10 524.25,128.13 524.50,128.40 524.75,128.39 525.00,127.64 525.25,128.04 525.50,128.20 525.75,128.07 526.00,128.42 526.25,127.75 526.50,128.03 526.75,128.38 527.00,127.72 527.25,128.30 527.50,128.47 527.75,127.65 528.00,127.67 528.25,128.46 528.50,128.10 528.75,127.85 529.00,127.81 529.25,128.44 529.50,128.42 529.75,127.80 530.00,127.32 530.25,128.41 530.50,128.38 530.75,128.19 531.00,127.91 531.25,128.35 531.50,128.20 531.75,127.72 532.00,128.37 532.25,127.71 532.50,128.06 532.75,128.39 533.00,128.35 533.25,128.04 533.50,128.32" class="spec"/><path d="M407.00,128.50V122.90 M413.40,128.50V114.30 M413.90,128.50V120.30 M436.00,128.50V123.30 M443.00,128.50V125.30 M474.00,128.50V121.90 M477.60,128.50V94.90 M487.40,128.50V101.90 M491.80,128.50V16.30 M496.60,128.50V122.30 M505.00,128.50V123.30 M509.00,128.50V117.30 M509.50,128.50V114.14 M510.00,128.50V111.41 M510.50,128.50V108.81 M511.00,128.50V106.30 M514.60,128.50V93.30 M516.60,128.50V46.30 M524.00,128.50V119.30 M526.00,128.50V111.30 M527.00,128.50V122.30 M531.00,128.50V97.30 M481.90,128.50V127.59 M483.40,128.50V127.15 M504.60,128.50V127.48 M425.40,128.50V128.14 M434.20,128.50V127.81 M458.00,128.50V128.09 M462.50,128.50V127.92 M491.00,128.50V127.97 M517.50,128.50V127.70 M521.00,128.50V127.92 M436.00,128.50V125.60 M456.00,128.50V123.60 M487.40,128.50V122.60 M491.80,128.50V119.60" class="pk"/>
<text transform="translate(412.24,103.20) rotate(-90) scale(0.809,1)" x="0" y="0" class="lab">Mg II 279.55</text>
<text transform="translate(424.24,102.20) rotate(-90) scale(0.809,1)" x="0" y="0" class="lab">Mg II 280.27</text>
<text transform="translate(451.24,114.20) rotate(-90) scale(0.809,1)" x="0" y="0" class="lab">Ca I 422.67</text>
<text transform="translate(474.64,84.20) rotate(-90) scale(0.809,1)" x="0" y="0" class="lab">Na I 588.99</text>
<text transform="translate(488.24,85.70) rotate(-90) scale(0.809,1)" x="0" y="0" class="lab">Na I 589.59</text>
<text transform="translate(502.24,48.70) rotate(-90) scale(0.809,1)" x="0" y="0" class="lab">H I 656.29</text>
<text transform="translate(514.24,80.20) rotate(-90) scale(0.809,1)" x="0" y="0" class="lab">K I 766.49</text>
<text transform="translate(527.24,49.70) rotate(-90) scale(0.809,1)" x="0" y="0" class="lab">O I 777.42</text>
<text transform="translate(508.24,95.70) rotate(-90) scale(0.809,1)" x="0" y="0" class="lab">N I 746.83</text>
<text transform="translate(525.24,101.70) rotate(-90) scale(0.809,1)" x="0" y="0" class="lab">N I 821.63</text>
<text transform="translate(531.24,90.00) rotate(-90) scale(0.809,1)" x="0" y="0" class="lab">O I 844.68</text>
<line x1="409.60" y1="104.40" x2="410.54" y2="107.99" class="ash"/><polygon points="412.00,113.60 409.28,108.32 411.79,107.66" class="ahd"/>
<line x1="420.00" y1="106.00" x2="418.15" y2="109.79" class="ash"/><polygon points="415.60,115.00 416.98,109.22 419.32,110.36" class="ahd"/>
<line x1="447.60" y1="115.60" x2="446.09" y2="118.76" class="ash"/><polygon points="443.60,124.00 444.92,118.20 447.27,119.32" class="ahd"/>
<line x1="473.00" y1="85.00" x2="474.43" y2="88.95" class="ash"/><polygon points="476.40,94.40 473.20,89.39 475.65,88.50" class="ahd"/>
<line x1="484.40" y1="87.00" x2="481.35" y2="95.54" class="ash"/><polygon points="479.40,101.00 480.13,95.10 482.58,95.98" class="ahd"/>
<line x1="500.00" y1="50.00" x2="497.40" y2="55.72" class="ash"/><polygon points="495.00,61.00 496.22,55.18 498.58,56.26" class="ahd"/>
<line x1="512.40" y1="82.00" x2="513.67" y2="87.36" class="ash"/><polygon points="515.00,93.00 512.40,87.65 514.93,87.06" class="ahd"/>
<line x1="523.00" y1="51.00" x2="520.75" y2="56.61" class="ash"/><polygon points="518.60,62.00 519.55,56.13 521.96,57.10" class="ahd"/>
<line x1="506.00" y1="96.00" x2="507.85" y2="100.61" class="ash"/><polygon points="510.00,106.00 506.64,101.10 509.05,100.13" class="ahd"/>
<line x1="522.60" y1="103.00" x2="523.33" y2="105.44" class="ash"/><polygon points="525.00,111.00 522.09,105.82 524.58,105.07" class="ahd"/>
<line x1="528.00" y1="92.00" x2="527.85" y2="91.61" class="ash"/><polygon points="530.00,97.00 526.64,92.10 529.05,91.13" class="ahd"/>
<line x1="393.1" y1="17.0" x2="409.6" y2="17.0" class="lg"/>
<text x="414.2" y="20.0" textLength="48.0" lengthAdjust="spacingAndGlyphs" class="ttl">COFCO pork</text>
<text transform="translate(374.6,68.73) rotate(-90)" text-anchor="middle" textLength="59.5" lengthAdjust="spacingAndGlyphs" class="axl">Intensity(counts,×10<tspan dy="-2.2" font-size="4">4</tspan><tspan dy="2.2">)</tspan></text>
</g>
<g>
<rect x="21.5" y="131.0" width="156.10" height="123.50" class="fr"/>
<line x1="21.5" y1="251.50" x2="24.1" y2="251.50" class="t"/>
<text x="18.60" y="253.40" text-anchor="end" class="tk">0</text>
<line x1="21.5" y1="244.50" x2="22.8" y2="244.50" class="t"/>
<line x1="21.5" y1="236.50" x2="24.1" y2="236.50" class="t"/>
<text x="18.60" y="238.74" text-anchor="end" class="tk">2</text>
<line x1="21.5" y1="229.50" x2="22.8" y2="229.50" class="t"/>
<line x1="21.5" y1="222.50" x2="24.1" y2="222.50" class="t"/>
<text x="18.60" y="224.08" text-anchor="end" class="tk">4</text>
<line x1="21.5" y1="214.50" x2="22.8" y2="214.50" class="t"/>
<line x1="21.5" y1="207.50" x2="24.1" y2="207.50" class="t"/>
<text x="18.60" y="209.42" text-anchor="end" class="tk">6</text>
<line x1="21.5" y1="200.50" x2="22.8" y2="200.50" class="t"/>
<line x1="21.5" y1="192.50" x2="24.1" y2="192.50" class="t"/>
<text x="18.60" y="194.76" text-anchor="end" class="tk">8</text>
<line x1="21.5" y1="185.50" x2="22.8" y2="185.50" class="t"/>
<line x1="21.5" y1="178.50" x2="24.1" y2="178.50" class="t"/>
<text x="18.60" y="180.10" text-anchor="end" class="tk">10</text>
<line x1="21.5" y1="170.50" x2="22.8" y2="170.50" class="t"/>
<line x1="21.5" y1="163.50" x2="24.1" y2="163.50" class="t"/>
<text x="18.60" y="165.44" text-anchor="end" class="tk">12</text>
<line x1="21.5" y1="156.50" x2="22.8" y2="156.50" class="t"/>
<line x1="21.5" y1="148.50" x2="24.1" y2="148.50" class="t"/>
<text x="18.60" y="150.78" text-anchor="end" class="tk">14</text>
<line x1="21.5" y1="141.50" x2="22.8" y2="141.50" class="t"/>
<line x1="21.5" y1="134.50" x2="24.1" y2="134.50" class="t"/>
<text x="18.60" y="136.12" text-anchor="end" class="tk">16</text>
<line x1="31.50" y1="254.5" x2="31.50" y2="252.00" class="t"/>
<line x1="52.50" y1="254.5" x2="52.50" y2="253.30" class="t"/>
<line x1="73.50" y1="254.5" x2="73.50" y2="252.00" class="t"/>
<line x1="94.50" y1="254.5" x2="94.50" y2="253.30" class="t"/>
<line x1="115.50" y1="254.5" x2="115.50" y2="252.00" class="t"/>
<line x1="135.50" y1="254.5" x2="135.50" y2="253.30" class="t"/>
<line x1="156.50" y1="254.5" x2="156.50" y2="252.00" class="t"/>
<line x1="31.60" y1="251.45" x2="168.00" y2="251.45" class="bl"/><polyline points="31.60,252.10 31.60,251.23 31.85,251.22 32.10,251.12 32.35,251.29 32.60,251.13 32.85,251.10 33.10,251.22 33.35,251.25 33.60,251.29 33.85,251.11 34.10,250.98 34.35,251.09 34.60,251.08 34.85,251.04 35.10,251.21 35.35,250.94 35.60,251.07 35.85,251.00 36.10,251.00 36.35,249.55 36.60,251.15 36.85,251.27 37.10,251.03 37.35,251.24 37.60,251.25 37.85,251.22 38.10,250.93 38.35,251.00 38.60,251.11 38.85,250.96 39.10,251.06 39.35,251.06 39.60,251.00 39.85,251.03 40.10,251.24 40.35,251.04 40.60,251.25 40.85,250.94 41.10,251.01 41.35,250.99 41.60,251.13 41.85,250.99 42.10,251.18 42.35,251.09 42.60,251.25 42.85,250.99 43.10,250.97 43.35,251.22 43.60,251.21 43.85,250.94 44.10,251.02 44.35,250.99 44.60,251.03 44.85,250.97 45.10,251.26 45.35,250.96 45.60,251.06 45.85,250.24 46.10,251.29 46.35,250.97 46.60,251.05 46.85,251.16 47.10,251.15 47.35,251.04 47.60,251.26 47.85,251.01 48.10,251.02 48.35,251.25 48.60,251.28 48.85,251.22 49.10,250.90 49.35,251.21 49.60,251.04 49.85,251.13 50.10,250.89 50.35,250.88 50.60,250.95 50.85,250.81 51.10,250.89 51.35,250.95 51.60,251.15 51.85,251.06 52.10,251.08 52.35,250.90 52.60,251.01 52.85,251.03 53.10,250.88 53.35,251.01 53.60,251.14 53.85,251.00 54.10,251.08 54.35,250.87 54.60,250.93 54.85,251.05 55.10,250.97 55.35,250.98 55.60,251.28 55.85,251.24 56.10,250.90 56.35,251.04 56.60,251.28 56.85,250.96 57.10,251.17 57.35,251.17 57.60,251.11 57.85,251.00 58.10,250.99 58.35,250.86 58.60,250.98 58.85,251.23 59.10,250.92 59.35,251.14 59.60,251.06 59.85,251.22 60.10,251.22 60.35,251.28 60.60,251.12 60.85,250.85 61.10,251.15 61.35,251.21 61.60,251.09 61.85,251.18 62.10,251.12 62.35,251.17 62.60,250.87 62.85,250.90 63.10,250.93 63.35,251.23 63.60,251.07 63.85,250.98 64.10,251.17 64.35,250.86 64.60,251.16 64.85,251.17 65.10,251.28 65.35,251.02 65.60,250.84 65.85,251.18 66.10,251.03 66.35,250.97 66.60,250.90 66.85,251.15 67.10,250.82 67.35,250.96 67.60,251.10 67.85,250.93 68.10,251.10 68.35,251.13 68.60,250.86 68.85,251.04 69.10,250.85 69.35,251.13 69.60,251.09 69.85,250.87 70.10,251.01 70.35,251.01 70.60,250.87 70.85,250.78 71.10,249.93 71.35,248.62 71.60,246.81 71.85,245.48 72.10,247.59 72.35,249.20 72.60,250.32 72.85,251.00 73.10,250.87 73.35,251.19 73.60,251.25 73.85,250.79 74.10,251.11 74.35,251.26 74.60,250.19 74.85,251.23 75.10,251.27 75.35,251.01 75.60,251.28 75.85,251.24 76.10,250.97 76.35,251.12 76.60,251.18 76.85,251.19 77.10,250.87 77.35,251.28 77.60,251.28 77.85,251.07 78.10,250.96 78.35,250.99 78.60,251.02 78.85,251.18 79.10,250.76 79.35,250.78 79.60,250.76 79.85,251.04 80.10,251.05 80.35,250.91 80.60,251.11 80.85,251.08 81.10,251.19 81.35,251.02 81.60,251.19 81.85,251.19 82.10,250.99 82.35,250.76 82.60,250.77 82.85,250.90 83.10,251.27 83.35,251.29 83.60,250.90 83.85,251.15 84.10,251.21 84.35,250.74 84.60,251.28 84.85,251.10 85.10,250.84 85.35,251.24 85.60,251.21 85.85,251.03 86.10,250.78 86.35,251.03 86.60,251.23 86.85,250.98 87.10,251.18 87.35,251.29 87.60,250.89 87.85,250.73 88.10,250.88 88.35,250.83 88.60,250.90 88.85,250.96 89.10,251.10 89.35,250.72 89.60,250.12 89.85,249.27 90.10,248.17 90.35,246.81 90.60,247.66 90.85,248.86 91.10,249.81 91.35,250.51 91.60,250.97 91.85,250.95 92.10,250.88 92.35,251.26 92.60,251.27 92.85,251.06 93.10,250.87 93.35,250.91 93.60,251.02 93.85,250.75 94.10,251.26 94.35,250.70 94.60,251.06 94.85,250.80 95.10,250.85 95.35,251.24 95.60,250.81 95.85,251.27 96.10,250.73 96.35,250.89 96.60,250.91 96.85,251.14 97.10,251.29 97.35,251.24 97.60,250.86 97.85,250.80 98.10,250.98 98.35,250.81 98.60,249.45 98.85,250.95 99.10,250.99 99.35,250.93 99.60,251.25 99.85,250.96 100.10,249.93 100.35,251.28 100.60,250.79 100.85,251.22 101.10,251.17 101.35,251.23 101.60,250.95 101.85,251.24 102.10,250.76 102.35,251.24 102.60,251.11 102.85,251.21 103.10,250.68 103.35,251.30 103.60,251.23 103.85,250.92 104.10,251.01 104.35,250.91 104.60,250.71 104.85,250.79 105.10,250.76 105.35,251.28 105.60,250.75 105.85,250.73 106.10,250.69 106.35,250.84 106.60,251.10 106.85,251.09 107.10,251.01 107.35,250.87 107.60,250.80 107.85,250.65 108.10,251.12 108.35,250.68 108.60,250.71 108.85,251.08 109.10,250.79 109.35,250.77 109.60,251.23 109.85,251.09 110.10,251.06 110.35,250.66 110.60,250.95 110.85,250.94 111.10,251.03 111.35,250.84 111.60,251.24 111.85,251.11 112.10,251.29 112.35,250.82 112.60,251.18 112.85,250.83 113.10,250.79 113.35,251.13 113.60,251.28 113.85,251.16 114.10,250.64 114.35,250.90 114.60,250.89 114.85,251.09 115.10,250.71 115.35,251.20 115.60,250.96 115.85,250.83 116.10,250.77 116.35,251.23 116.60,251.02 116.85,250.99 117.10,251.23 117.35,251.06 117.60,251.28 117.85,251.14 118.10,250.74 118.35,250.82 118.60,250.67 118.85,250.84 119.10,250.84 119.35,251.20 119.60,250.61 119.85,250.84 120.10,251.14 120.35,251.29 120.60,251.21 120.85,251.04 121.10,251.20 121.35,250.88 121.60,249.93 121.85,248.35 122.10,246.10 122.35,246.60 122.60,248.72 122.85,250.17 123.10,250.84 123.35,250.67 123.60,250.82 123.85,250.47 124.10,251.22 124.35,250.78 124.60,251.04 124.85,250.66 125.10,250.09 125.35,249.32 125.60,248.35 125.85,247.16 126.10,245.74 126.35,244.10 126.60,243.74 126.85,245.43 127.10,246.89 127.35,248.13 127.60,249.15 127.85,249.95 128.10,250.56 128.35,250.98 128.60,251.06 128.85,250.81 129.10,251.21 129.35,250.94 129.60,251.29 129.85,250.21 130.10,250.75 130.35,251.12 130.60,250.85 130.85,251.19 131.10,250.59 131.35,250.66 131.60,250.62 131.85,251.13 132.10,250.62 132.35,250.48 132.60,251.19 132.85,250.73 133.10,250.59 133.35,249.36 133.60,251.12 133.85,250.91 134.10,250.92 134.35,250.83 134.60,250.66 134.85,250.53 135.10,251.13 135.35,251.05 135.60,251.04 135.85,251.28 136.10,251.17 136.35,251.30 136.60,251.10 136.85,250.86 137.10,251.19 137.35,251.21 137.60,251.18 137.85,250.89 138.10,250.61 138.35,251.12 138.60,250.84 138.85,250.98 139.10,250.78 139.35,250.55 139.60,250.56 139.85,251.26 140.10,250.78 140.35,251.07 140.60,250.61 140.85,250.88 141.10,250.66 141.35,250.89 141.60,251.11 141.85,250.83 142.10,250.58 142.35,251.15 142.60,250.58 142.85,251.16 143.10,251.10 143.35,251.01 143.60,250.76 143.85,250.71 144.10,250.92 144.35,249.94 144.60,250.75 144.85,250.78 145.10,250.53 145.35,251.11 145.60,250.52 145.85,250.97 146.10,250.57 146.35,250.70 146.60,250.76 146.85,251.20 147.10,251.12 147.35,251.27 147.60,250.97 147.85,251.24 148.10,250.53 148.35,251.01 148.60,250.94 148.85,249.89 149.10,251.17 149.35,250.51 149.60,250.61 149.85,250.78 150.10,250.50 150.35,250.66 150.60,251.09 150.85,250.80 151.10,250.57 151.35,250.33 151.60,250.69 151.85,250.98 152.10,250.37 152.35,251.08 152.60,250.30 152.85,250.52 153.10,251.18 153.35,250.86 153.60,250.95 153.85,251.08 154.10,251.23 154.35,251.22 154.60,250.71 154.85,250.63 155.10,251.01 155.35,251.14 155.60,250.82 155.85,251.17 156.10,250.97 156.35,251.10 156.60,250.62 156.85,250.80 157.10,250.69 157.35,250.62 157.60,251.22 157.85,250.81 158.10,251.13 158.35,251.21 158.60,251.09 158.85,250.93 159.10,249.59 159.35,251.11 159.60,250.75 159.85,250.77 160.10,251.12 160.35,250.72 160.60,251.16 160.85,250.63 161.10,250.68 161.35,250.61 161.60,251.02 161.85,251.25 162.10,250.45 162.35,251.17 162.60,250.53 162.85,251.13 163.10,250.85 163.35,250.98 163.60,250.83 163.85,251.21 164.10,250.96 164.35,251.08 164.60,251.10 164.85,250.88 165.10,250.62 165.35,250.90 165.60,250.47 165.85,251.21 166.10,250.73 166.35,251.27 166.60,250.49 166.85,250.88 167.10,251.03 167.35,250.63 167.60,250.91 167.85,250.95" class="spec"/><path d="M41.60,251.30V247.30 M48.00,251.30V241.90 M48.50,251.30V246.30 M71.50,251.30V233.30 M71.90,251.30V233.30 M72.30,251.30V233.80 M78.00,251.30V238.30 M108.60,251.30V241.30 M112.60,251.30V205.30 M122.20,251.30V230.50 M126.50,251.30V175.30 M131.40,251.30V246.30 M139.60,251.30V246.30 M143.60,251.30V243.00 M144.08,251.30V241.19 M144.56,251.30V239.62 M145.04,251.30V238.14 M145.52,251.30V236.70 M146.00,251.30V235.30 M149.60,251.30V203.30 M151.60,251.30V197.30 M159.50,251.30V246.30 M161.00,251.30V239.30 M162.00,251.30V246.80 M166.00,251.30V230.30 M116.50,251.30V249.40 M118.00,251.30V248.60 M139.20,251.30V249.20 M60.00,251.30V250.40 M68.80,251.30V249.80 M92.60,251.30V250.30 M97.10,251.30V250.00 M125.60,251.30V250.10 M152.10,251.30V249.60 M155.60,251.30V250.00 M71.80,251.30V245.60 M90.40,251.30V247.10 M122.20,251.30V245.60 M126.50,251.30V243.60" class="pk"/>
<text transform="translate(45.74,233.70) rotate(-90) scale(0.809,1)" x="0" y="0" class="lab">Mg II 279.55</text>
<text transform="translate(60.94,232.70) rotate(-90) scale(0.809,1)" x="0" y="0" class="lab">Mg II 280.27</text>
<text transform="translate(86.64,231.20) rotate(-90) scale(0.809,1)" x="0" y="0" class="lab">Ca I 422.67</text>
<text transform="translate(109.24,195.20) rotate(-90) scale(0.809,1)" x="0" y="0" class="lab">Na I 588.99</text>
<text transform="translate(121.84,197.00) rotate(-90) scale(0.809,1)" x="0" y="0" class="lab">Na I 589.59</text>
<text transform="translate(135.24,172.20) rotate(-90) scale(0.809,1)" x="0" y="0" class="lab">H I 656.29</text>
<text transform="translate(148.24,190.70) rotate(-90) scale(0.809,1)" x="0" y="0" class="lab">K I 766.49</text>
<text transform="translate(158.24,182.20) rotate(-90) scale(0.809,1)" x="0" y="0" class="lab">O I 777.42</text>
<text transform="translate(141.74,224.20) rotate(-90) scale(0.809,1)" x="0" y="0" class="lab">N I 746.83</text>
<text transform="translate(159.74,227.70) rotate(-90) scale(0.809,1)" x="0" y="0" class="lab">N I 821.63</text>
<text transform="translate(167.04,216.70) rotate(-90) scale(0.809,1)" x="0" y="0" class="lab">O I 844.68</text>
<line x1="43.60" y1="235.00" x2="44.57" y2="238.78" class="ash"/><polygon points="46.00,244.40 43.31,239.10 45.82,238.46" class="ahd"/>
<line x1="54.00" y1="236.00" x2="52.36" y2="239.70" class="ash"/><polygon points="50.00,245.00 51.17,239.17 53.54,240.23" class="ahd"/>
<line x1="83.60" y1="232.00" x2="82.65" y2="233.84" class="ash"/><polygon points="80.00,239.00 81.50,233.25 83.81,234.44" class="ahd"/>
<line x1="107.00" y1="197.00" x2="108.17" y2="200.50" class="ash"/><polygon points="110.00,206.00 106.93,200.91 109.40,200.09" class="ahd"/>
<line x1="119.00" y1="198.00" x2="117.08" y2="202.99" class="ash"/><polygon points="115.00,208.40 115.87,202.52 118.30,203.45" class="ahd"/>
<line x1="133.20" y1="175.00" x2="131.07" y2="180.58" class="ash"/><polygon points="129.00,186.00 129.85,180.12 132.28,181.05" class="ahd"/>
<line x1="145.00" y1="192.00" x2="146.15" y2="198.30" class="ash"/><polygon points="147.20,204.00 144.88,198.53 147.43,198.06" class="ahd"/>
<line x1="155.60" y1="184.00" x2="153.89" y2="190.40" class="ash"/><polygon points="152.40,196.00 152.64,190.06 155.15,190.73" class="ahd"/>
<line x1="140.60" y1="225.00" x2="142.66" y2="229.69" class="ash"/><polygon points="145.00,235.00 141.47,230.21 143.85,229.17" class="ahd"/>
<line x1="158.00" y1="228.00" x2="159.16" y2="233.33" class="ash"/><polygon points="160.40,239.00 157.89,233.61 160.43,233.06" class="ahd"/>
<line x1="163.60" y1="219.00" x2="164.37" y2="223.29" class="ash"/><polygon points="165.40,229.00 163.09,223.52 165.65,223.06" class="ahd"/>
<line x1="27.5" y1="141.4" x2="44.3" y2="141.4" class="lg"/>
<text x="46" y="144.4" textLength="41.0" lengthAdjust="spacingAndGlyphs" class="ttl">Sirloin beef</text>
<text transform="translate(10.4,192.75) rotate(-90)" text-anchor="middle" textLength="59.5" lengthAdjust="spacingAndGlyphs" class="axl">Intensity(counts,×10<tspan dy="-2.2" font-size="4">4</tspan><tspan dy="2.2">)</tspan></text>
<text x="99.6" y="272.4" text-anchor="middle" textLength="48.5" lengthAdjust="spacingAndGlyphs" class="xl">Wavelength (nm)</text>
</g>
<g>
<rect x="204.0" y="131.1" width="156.20" height="124.30" class="fr"/>
<line x1="204.0" y1="251.50" x2="206.6" y2="251.50" class="t"/>
<text x="201.10" y="253.65" text-anchor="end" class="tk">0</text>
<line x1="204.0" y1="244.50" x2="205.3" y2="244.50" class="t"/>
<line x1="204.0" y1="236.50" x2="206.6" y2="236.50" class="t"/>
<text x="201.10" y="238.99" text-anchor="end" class="tk">2</text>
<line x1="204.0" y1="229.50" x2="205.3" y2="229.50" class="t"/>
<line x1="204.0" y1="222.50" x2="206.6" y2="222.50" class="t"/>
<text x="201.10" y="224.33" text-anchor="end" class="tk">4</text>
<line x1="204.0" y1="215.50" x2="205.3" y2="215.50" class="t"/>
<line x1="204.0" y1="207.50" x2="206.6" y2="207.50" class="t"/>
<text x="201.10" y="209.67" text-anchor="end" class="tk">6</text>
<line x1="204.0" y1="200.50" x2="205.3" y2="200.50" class="t"/>
<line x1="204.0" y1="193.50" x2="206.6" y2="193.50" class="t"/>
<text x="201.10" y="195.01" text-anchor="end" class="tk">8</text>
<line x1="204.0" y1="185.50" x2="205.3" y2="185.50" class="t"/>
<line x1="204.0" y1="178.50" x2="206.6" y2="178.50" class="t"/>
<text x="201.10" y="180.35" text-anchor="end" class="tk">10</text>
<line x1="204.0" y1="171.50" x2="205.3" y2="171.50" class="t"/>
<line x1="204.0" y1="163.50" x2="206.6" y2="163.50" class="t"/>
<text x="201.10" y="165.69" text-anchor="end" class="tk">12</text>
<line x1="204.0" y1="156.50" x2="205.3" y2="156.50" class="t"/>
<line x1="204.0" y1="149.50" x2="206.6" y2="149.50" class="t"/>
<text x="201.10" y="151.03" text-anchor="end" class="tk">14</text>
<line x1="204.0" y1="141.50" x2="205.3" y2="141.50" class="t"/>
<line x1="204.0" y1="134.50" x2="206.6" y2="134.50" class="t"/>
<text x="201.10" y="136.37" text-anchor="end" class="tk">16</text>
<line x1="214.50" y1="255.4" x2="214.50" y2="252.90" class="t"/>
<text x="214.70" y="262.70" text-anchor="middle" class="tk">200</text>
<line x1="235.50" y1="255.4" x2="235.50" y2="254.20" class="t"/>
<line x1="256.50" y1="255.4" x2="256.50" y2="252.90" class="t"/>
<text x="256.40" y="262.70" text-anchor="middle" class="tk">400</text>
<line x1="276.50" y1="255.4" x2="276.50" y2="254.20" class="t"/>
<line x1="297.50" y1="255.4" x2="297.50" y2="252.90" class="t"/>
<text x="298.10" y="262.70" text-anchor="middle" class="tk">600</text>
<line x1="318.50" y1="255.4" x2="318.50" y2="254.20" class="t"/>
<line x1="339.50" y1="255.4" x2="339.50" y2="252.90" class="t"/>
<text x="339.80" y="262.70" text-anchor="middle" class="tk">800</text>
<line x1="214.40" y1="251.70" x2="351.00" y2="251.70" class="bl"/><polyline points="214.40,252.35 214.40,251.21 214.65,251.45 214.90,251.50 215.15,251.53 215.40,251.36 215.65,251.49 215.90,251.28 216.15,251.43 216.40,251.46 216.65,251.51 216.90,251.28 217.15,251.22 217.40,251.20 217.65,251.45 217.90,251.29 218.15,251.50 218.40,251.20 218.65,251.25 218.90,251.46 219.15,251.38 219.40,251.50 219.65,251.43 219.90,251.27 220.15,251.48 220.40,251.24 220.65,250.19 220.90,251.32 221.15,251.19 221.40,251.23 221.65,251.45 221.90,251.41 222.15,251.41 222.40,251.46 222.65,251.39 222.90,251.21 223.15,251.46 223.40,251.24 223.65,251.27 223.90,251.23 224.15,251.29 224.40,251.22 224.65,251.34 224.90,251.23 225.15,251.22 225.40,251.20 225.65,251.18 225.90,251.28 226.15,251.53 226.40,251.33 226.65,251.41 226.90,251.24 227.15,251.46 227.40,251.45 227.65,251.42 227.90,251.23 228.15,251.52 228.40,251.25 228.65,251.36 228.90,251.22 229.15,251.42 229.40,251.18 229.65,251.18 229.90,251.42 230.15,251.31 230.40,251.31 230.65,251.33 230.90,251.38 231.15,251.27 231.40,251.40 231.65,251.15 231.90,251.50 232.15,251.54 232.40,251.37 232.65,251.37 232.90,251.33 233.15,251.21 233.40,251.46 233.65,251.21 233.90,251.17 234.15,251.36 234.40,251.24 234.65,251.46 234.90,251.41 235.15,251.47 235.40,251.33 235.65,251.49 235.90,251.11 236.15,251.20 236.40,251.15 236.65,251.22 236.90,251.39 237.15,251.46 237.40,251.33 237.65,251.15 237.90,251.32 238.15,251.30 238.40,251.27 238.65,251.36 238.90,251.43 239.15,251.36 239.40,251.34 239.65,251.55 239.90,251.23 240.15,251.44 240.40,251.32 240.65,251.28 240.90,251.46 241.15,251.22 241.40,251.22 241.65,251.42 241.90,251.12 242.15,251.11 242.40,251.51 242.65,251.18 242.90,251.48 243.15,251.25 243.40,251.39 243.65,251.44 243.90,251.47 244.15,251.26 244.40,251.47 244.65,251.51 244.90,251.40 245.15,251.46 245.40,251.34 245.65,251.32 245.90,251.33 246.15,251.27 246.40,251.47 246.65,251.21 246.90,251.36 247.15,251.35 247.40,251.22 247.65,251.48 247.90,250.00 248.15,251.20 248.40,251.24 248.65,251.35 248.90,251.40 249.15,251.23 249.40,251.08 249.65,251.37 249.90,251.16 250.15,251.22 250.40,251.08 250.65,251.35 250.90,251.49 251.15,251.15 251.40,251.39 251.65,251.30 251.90,251.10 252.15,251.28 252.40,251.23 252.65,251.38 252.90,251.24 253.15,251.40 253.40,250.88 253.65,249.91 253.90,248.46 254.15,246.49 254.40,244.00 254.65,246.49 254.90,248.46 255.15,249.91 255.40,250.88 255.65,251.08 255.90,251.27 256.15,251.50 256.40,251.32 256.65,251.16 256.90,251.35 257.15,251.09 257.40,251.24 257.65,251.53 257.90,250.42 258.15,251.22 258.40,251.46 258.65,251.23 258.90,251.04 259.15,251.03 259.40,251.34 259.65,251.43 259.90,251.02 260.15,251.46 260.40,251.47 260.65,251.15 260.90,251.27 261.15,251.53 261.40,251.12 261.65,251.31 261.90,251.22 262.15,251.34 262.40,251.08 262.65,251.24 262.90,251.45 263.15,249.97 263.40,251.12 263.65,251.55 263.90,251.32 264.15,251.24 264.40,251.32 264.65,251.02 264.90,251.21 265.15,251.34 265.40,251.05 265.65,251.11 265.90,251.00 266.15,251.37 266.40,251.40 266.65,251.46 266.90,251.28 267.15,251.03 267.40,251.03 267.65,251.47 267.90,251.23 268.15,251.22 268.40,251.02 268.65,251.11 268.90,251.39 269.15,251.05 269.40,251.13 269.65,251.13 269.90,251.49 270.15,251.14 270.40,251.17 270.65,251.34 270.90,251.01 271.15,251.30 271.40,251.08 271.65,251.29 271.90,251.32 272.15,251.27 272.40,250.90 272.65,250.29 272.90,249.44 273.15,248.34 273.40,247.00 273.65,248.34 273.90,249.44 274.15,250.29 274.40,250.90 274.65,251.27 274.90,251.12 275.15,251.35 275.40,251.44 275.65,251.06 275.90,251.44 276.15,251.35 276.40,250.99 276.65,251.08 276.90,251.00 277.15,251.00 277.40,250.96 277.65,251.17 277.90,251.03 278.15,251.49 278.40,251.06 278.65,251.10 278.90,251.27 279.15,250.96 279.40,251.45 279.65,251.21 279.90,251.45 280.15,251.26 280.40,251.39 280.65,251.21 280.90,251.19 281.15,251.00 281.40,250.96 281.65,251.46 281.90,250.95 282.15,251.21 282.40,251.53 282.65,251.47 282.90,251.16 283.15,250.96 283.40,251.32 283.65,251.15 283.90,251.01 284.15,251.32 284.40,251.36 284.65,251.40 284.90,250.68 285.15,251.42 285.40,251.47 285.65,251.12 285.90,250.96 286.15,251.12 286.40,251.55 286.65,251.28 286.90,251.35 287.15,251.54 287.40,250.97 287.65,250.71 287.90,251.43 288.15,251.48 288.40,251.38 288.65,251.22 288.90,250.92 289.15,251.10 289.40,251.01 289.65,251.48 289.90,251.37 290.15,251.31 290.40,250.92 290.65,250.90 290.90,251.12 291.15,251.07 291.40,251.31 291.65,251.38 291.90,251.45 292.15,251.16 292.40,251.44 292.65,251.17 292.90,251.28 293.15,251.54 293.40,251.27 293.65,251.04 293.90,251.00 294.15,251.49 294.40,251.29 294.65,251.03 294.90,251.10 295.15,251.24 295.40,250.93 295.65,251.43 295.90,251.49 296.15,251.49 296.40,251.26 296.65,251.20 296.90,251.38 297.15,251.34 297.40,250.93 297.65,251.26 297.90,251.52 298.15,250.97 298.40,251.44 298.65,251.51 298.90,251.32 299.15,251.04 299.40,251.20 299.65,251.09 299.90,251.09 300.15,250.59 300.40,251.27 300.65,251.49 300.90,250.86 301.15,251.36 301.40,251.39 301.65,251.07 301.90,251.44 302.15,251.17 302.40,250.90 302.65,251.20 302.90,251.41 303.15,251.20 303.40,251.34 303.65,250.97 303.90,251.29 304.15,250.55 304.40,249.28 304.65,247.41 304.90,246.97 305.15,248.95 305.40,250.34 305.65,251.03 305.90,251.05 306.15,251.04 306.40,250.85 306.65,251.55 306.90,251.03 307.15,251.09 307.40,250.79 307.65,250.16 307.90,249.33 308.15,248.28 308.40,247.01 308.65,245.51 308.90,243.76 309.15,244.13 309.40,245.83 309.65,247.28 309.90,248.51 310.15,249.51 310.40,250.30 310.65,250.89 310.90,251.18 311.15,251.06 311.40,251.16 311.65,250.98 311.90,250.97 312.15,251.36 312.40,251.17 312.65,251.33 312.90,251.02 313.15,251.19 313.40,251.39 313.65,251.28 313.90,251.28 314.15,251.00 314.40,251.37 314.65,251.06 314.90,251.07 315.15,251.34 315.40,249.83 315.65,251.15 315.90,250.82 316.15,251.38 316.40,251.47 316.65,250.99 316.90,251.27 317.15,251.18 317.40,250.87 317.65,250.89 317.90,251.23 318.15,250.80 318.40,251.43 318.65,250.84 318.90,251.29 319.15,250.86 319.40,251.40 319.65,251.26 319.90,250.85 320.15,251.24 320.40,250.77 320.65,250.70 320.90,250.96 321.15,251.02 321.40,250.39 321.65,251.07 321.90,251.39 322.15,250.84 322.40,251.09 322.65,250.81 322.90,251.04 323.15,251.15 323.40,251.38 323.65,251.22 323.90,250.84 324.15,250.77 324.40,250.87 324.65,251.08 324.90,251.52 325.15,250.90 325.40,250.93 325.65,250.76 325.90,251.25 326.15,251.05 326.40,250.88 326.65,251.24 326.90,251.47 327.15,250.94 327.40,250.75 327.65,251.18 327.90,251.55 328.15,251.48 328.40,251.20 328.65,251.32 328.90,251.13 329.15,251.41 329.40,251.15 329.65,250.85 329.90,250.83 330.15,251.28 330.40,251.09 330.65,251.48 330.90,251.25 331.15,251.01 331.40,251.28 331.65,250.86 331.90,251.21 332.15,251.25 332.40,251.42 332.65,251.00 332.90,251.21 333.15,250.90 333.40,250.86 333.65,250.61 333.90,250.75 334.15,250.99 334.40,251.16 334.65,251.41 334.90,250.97 335.15,251.01 335.40,251.04 335.65,251.12 335.90,251.09 336.15,251.14 336.40,251.44 336.65,250.98 336.90,251.03 337.15,251.07 337.40,251.18 337.65,251.07 337.90,251.24 338.15,250.73 338.40,251.00 338.65,249.63 338.90,250.72 339.15,251.32 339.40,251.40 339.65,249.77 339.90,251.17 340.15,250.96 340.40,250.81 340.65,250.78 340.90,251.53 341.15,251.49 341.40,251.01 341.65,251.41 341.90,251.31 342.15,250.77 342.40,250.69 342.65,250.86 342.90,250.75 343.15,250.91 343.40,251.47 343.65,251.07 343.90,250.80 344.15,250.94 344.40,250.86 344.65,251.38 344.90,251.30 345.15,250.82 345.40,250.94 345.65,251.35 345.90,250.71 346.15,251.10 346.40,251.53 346.65,250.89 346.90,251.23 347.15,251.24 347.40,250.97 347.65,251.08 347.90,250.73 348.15,251.10 348.40,251.37 348.65,251.24 348.90,251.47 349.15,250.98 349.40,251.21 349.65,251.36 349.90,251.55 350.15,251.32 350.40,251.05 350.65,250.99 350.90,250.85" class="spec"/><path d="M224.40,251.55V247.30 M230.60,251.55V244.30 M231.10,251.55V247.30 M254.10,251.55V224.30 M254.50,251.55V224.30 M254.90,251.55V225.30 M260.60,251.55V233.30 M291.40,251.55V241.30 M295.40,251.55V201.30 M304.80,251.55V234.30 M309.00,251.55V182.30 M313.60,251.55V247.30 M322.40,251.55V247.30 M326.00,251.55V244.65 M326.52,251.55V243.16 M327.04,251.55V241.87 M327.56,251.55V240.64 M328.08,251.55V239.46 M328.60,251.55V238.30 M332.00,251.55V209.30 M334.40,251.55V202.30 M341.00,251.55V246.30 M343.60,251.55V239.30 M344.60,251.55V247.30 M348.60,251.55V233.30 M299.30,251.55V249.65 M300.80,251.55V248.85 M322.00,251.55V249.45 M242.80,251.55V250.65 M251.60,251.55V250.05 M275.40,251.55V250.55 M279.90,251.55V250.25 M308.40,251.55V250.35 M334.90,251.55V249.85 M338.40,251.55V250.25 M254.40,251.55V244.60 M273.40,251.55V247.60 M304.80,251.55V246.60 M309.00,251.55V243.60" class="pk"/>
<text transform="translate(227.84,234.70) rotate(-90) scale(0.809,1)" x="0" y="0" class="lab">Mg II 279.55</text>
<text transform="translate(240.84,233.70) rotate(-90) scale(0.809,1)" x="0" y="0" class="lab">Mg II 280.27</text>
<text transform="translate(271.74,226.20) rotate(-90) scale(0.809,1)" x="0" y="0" class="lab">Ca I 422.67</text>
<text transform="translate(289.84,198.20) rotate(-90) scale(0.809,1)" x="0" y="0" class="lab">Na I 588.99</text>
<text transform="translate(303.84,196.80) rotate(-90) scale(0.809,1)" x="0" y="0" class="lab">Na I 589.59</text>
<text transform="translate(319.24,173.70) rotate(-90) scale(0.809,1)" x="0" y="0" class="lab">H I 656.29</text>
<text transform="translate(330.24,199.50) rotate(-90) scale(0.809,1)" x="0" y="0" class="lab">K I 766.49</text>
<text transform="translate(342.24,190.20) rotate(-90) scale(0.809,1)" x="0" y="0" class="lab">O I 777.42</text>
<text transform="translate(322.74,220.20) rotate(-90) scale(0.809,1)" x="0" y="0" class="lab">N I 746.83</text>
<text transform="translate(341.64,228.40) rotate(-90) scale(0.809,1)" x="0" y="0" class="lab">N I 821.63</text>
<text transform="translate(348.24,219.20) rotate(-90) scale(0.809,1)" x="0" y="0" class="lab">O I 844.68</text>
<line x1="226.60" y1="236.00" x2="227.34" y2="239.34" class="ash"/><polygon points="228.60,245.00 226.07,239.62 228.61,239.06" class="ahd"/>
<line x1="236.60" y1="236.00" x2="234.96" y2="239.70" class="ash"/><polygon points="232.60,245.00 233.77,239.17 236.14,240.23" class="ahd"/>
<line x1="268.00" y1="227.00" x2="265.58" y2="231.03" class="ash"/><polygon points="262.60,236.00 264.47,230.36 266.70,231.70" class="ahd"/>
<line x1="289.00" y1="199.00" x2="290.64" y2="202.70" class="ash"/><polygon points="293.00,208.00 289.46,203.23 291.83,202.17" class="ahd"/>
<line x1="302.00" y1="198.00" x2="299.75" y2="203.61" class="ash"/><polygon points="297.60,209.00 298.55,203.13 300.96,204.10" class="ahd"/>
<line x1="316.00" y1="176.00" x2="314.36" y2="180.54" class="ash"/><polygon points="312.40,186.00 313.14,180.10 315.59,180.98" class="ahd"/>
<line x1="327.00" y1="199.00" x2="328.37" y2="205.33" class="ash"/><polygon points="329.60,211.00 327.10,205.61 329.64,205.06" class="ahd"/>
<line x1="339.00" y1="190.50" x2="336.79" y2="196.55" class="ash"/><polygon points="334.80,202.00 335.57,196.11 338.01,197.00" class="ahd"/>
<line x1="321.00" y1="220.00" x2="324.41" y2="226.81" class="ash"/><polygon points="327.00,232.00 323.24,227.39 325.57,226.23" class="ahd"/>
<line x1="339.00" y1="228.00" x2="340.37" y2="234.33" class="ash"/><polygon points="341.60,240.00 339.10,234.61 341.64,234.06" class="ahd"/>
<line x1="346.60" y1="221.00" x2="347.54" y2="227.26" class="ash"/><polygon points="348.40,233.00 346.25,227.46 348.83,227.07" class="ahd"/>
<line x1="210.5" y1="141.7" x2="226.8" y2="141.7" class="lg"/>
<text x="231.4" y="144.4" textLength="50.8" lengthAdjust="spacingAndGlyphs" class="ttl">Silverside beef</text>
<text transform="translate(193.0,193.25) rotate(-90)" text-anchor="middle" textLength="59.5" lengthAdjust="spacingAndGlyphs" class="axl">Intensity(counts,×10<tspan dy="-2.2" font-size="4">4</tspan><tspan dy="2.2">)</tspan></text>
<text x="282.3" y="272.4" text-anchor="middle" textLength="48.5" lengthAdjust="spacingAndGlyphs" class="xl">Wavelength (nm)</text>
</g>
<g>
<rect x="386.8" y="131.0" width="156.00" height="124.40" class="fr"/>
<line x1="386.8" y1="251.50" x2="389.40000000000003" y2="251.50" class="t"/>
<text x="383.90" y="253.65" text-anchor="end" class="tk">0</text>
<line x1="386.8" y1="244.50" x2="388.1" y2="244.50" class="t"/>
<line x1="386.8" y1="236.50" x2="389.40000000000003" y2="236.50" class="t"/>
<text x="383.90" y="238.99" text-anchor="end" class="tk">2</text>
<line x1="386.8" y1="229.50" x2="388.1" y2="229.50" class="t"/>
<line x1="386.8" y1="222.50" x2="389.40000000000003" y2="222.50" class="t"/>
<text x="383.90" y="224.33" text-anchor="end" class="tk">4</text>
<line x1="386.8" y1="215.50" x2="388.1" y2="215.50" class="t"/>
<line x1="386.8" y1="207.50" x2="389.40000000000003" y2="207.50" class="t"/>
<text x="383.90" y="209.67" text-anchor="end" class="tk">6</text>
<line x1="386.8" y1="200.50" x2="388.1" y2="200.50" class="t"/>
<line x1="386.8" y1="193.50" x2="389.40000000000003" y2="193.50" class="t"/>
<text x="383.90" y="195.01" text-anchor="end" class="tk">8</text>
<line x1="386.8" y1="185.50" x2="388.1" y2="185.50" class="t"/>
<line x1="386.8" y1="178.50" x2="389.40000000000003" y2="178.50" class="t"/>
<text x="383.90" y="180.35" text-anchor="end" class="tk">10</text>
<line x1="386.8" y1="171.50" x2="388.1" y2="171.50" class="t"/>
<line x1="386.8" y1="163.50" x2="389.40000000000003" y2="163.50" class="t"/>
<text x="383.90" y="165.69" text-anchor="end" class="tk">12</text>
<line x1="386.8" y1="156.50" x2="388.1" y2="156.50" class="t"/>
<line x1="386.8" y1="149.50" x2="389.40000000000003" y2="149.50" class="t"/>
<text x="383.90" y="151.03" text-anchor="end" class="tk">14</text>
<line x1="386.8" y1="141.50" x2="388.1" y2="141.50" class="t"/>
<line x1="386.8" y1="134.50" x2="389.40000000000003" y2="134.50" class="t"/>
<text x="383.90" y="136.37" text-anchor="end" class="tk">16</text>
<line x1="397.50" y1="255.4" x2="397.50" y2="252.90" class="t"/>
<text x="397.30" y="262.70" text-anchor="middle" class="tk">200</text>
<line x1="417.50" y1="255.4" x2="417.50" y2="254.20" class="t"/>
<line x1="438.50" y1="255.4" x2="438.50" y2="252.90" class="t"/>
<text x="439.00" y="262.70" text-anchor="middle" class="tk">400</text>
<line x1="459.50" y1="255.4" x2="459.50" y2="254.20" class="t"/>
<line x1="480.50" y1="255.4" x2="480.50" y2="252.90" class="t"/>
<text x="480.70" y="262.70" text-anchor="middle" class="tk">600</text>
<line x1="501.50" y1="255.4" x2="501.50" y2="254.20" class="t"/>
<line x1="522.50" y1="255.4" x2="522.50" y2="252.90" class="t"/>
<text x="522.40" y="262.70" text-anchor="middle" class="tk">800</text>
<line x1="397.00" y1="251.70" x2="533.60" y2="251.70" class="bl"/><polyline points="397.00,252.35 397.00,251.25 397.25,251.31 397.50,251.40 397.75,251.21 398.00,251.51 398.25,251.37 398.50,251.47 398.75,251.41 399.00,251.48 399.25,251.48 399.50,251.36 399.75,251.37 400.00,251.54 400.25,251.48 400.50,251.27 400.75,251.35 401.00,251.26 401.25,251.28 401.50,251.34 401.75,251.41 402.00,251.53 402.25,251.29 402.50,251.35 402.75,251.51 403.00,251.22 403.25,251.46 403.50,251.45 403.75,251.37 404.00,251.44 404.25,251.41 404.50,251.28 404.75,250.97 405.00,251.51 405.25,251.25 405.50,251.47 405.75,251.26 406.00,251.19 406.25,251.43 406.50,251.18 406.75,251.38 407.00,251.25 407.25,251.36 407.50,251.39 407.75,251.39 408.00,251.33 408.25,251.32 408.50,251.33 408.75,251.52 409.00,251.20 409.25,251.54 409.50,251.30 409.75,251.36 410.00,251.43 410.25,251.26 410.50,251.29 410.75,251.28 411.00,251.37 411.25,251.31 411.50,251.50 411.75,251.43 412.00,251.42 412.25,251.22 412.50,251.25 412.75,251.16 413.00,251.25 413.25,251.48 413.50,251.34 413.75,251.50 414.00,251.42 414.25,251.39 414.50,251.45 414.75,251.41 415.00,251.20 415.25,251.23 415.50,251.50 415.75,251.36 416.00,251.46 416.25,251.22 416.50,251.48 416.75,251.37 417.00,251.16 417.25,251.31 417.50,251.54 417.75,251.15 418.00,251.30 418.25,251.52 418.50,251.50 418.75,251.24 419.00,251.39 419.25,251.12 419.50,251.45 419.75,251.51 420.00,251.32 420.25,251.19 420.50,251.44 420.75,251.18 421.00,251.22 421.25,251.13 421.50,251.28 421.75,251.50 422.00,251.24 422.25,251.22 422.50,251.33 422.75,251.35 423.00,251.28 423.25,251.42 423.50,251.51 423.75,251.32 424.00,251.50 424.25,251.32 424.50,251.38 424.75,251.14 425.00,251.10 425.25,251.09 425.50,251.43 425.75,251.26 426.00,251.08 426.25,251.17 426.50,251.51 426.75,251.47 427.00,251.26 427.25,251.33 427.50,251.50 427.75,251.50 428.00,251.24 428.25,251.53 428.50,251.09 428.75,251.35 429.00,251.22 429.25,251.24 429.50,251.28 429.75,251.46 430.00,251.08 430.25,251.07 430.50,251.14 430.75,251.19 431.00,251.09 431.25,251.12 431.50,251.17 431.75,251.40 432.00,251.16 432.25,251.13 432.50,251.47 432.75,251.27 433.00,251.38 433.25,251.47 433.50,251.44 433.75,251.39 434.00,251.40 434.25,250.70 434.50,250.07 434.75,249.92 435.00,251.20 435.25,250.52 435.50,249.45 435.75,247.95 436.00,246.00 436.25,247.95 436.50,249.45 436.75,250.05 437.00,251.14 437.25,251.27 437.50,251.47 437.75,251.41 438.00,251.45 438.25,251.25 438.50,251.23 438.75,251.07 439.00,251.26 439.25,251.07 439.50,251.50 439.75,251.18 440.00,251.21 440.25,251.06 440.50,251.32 440.75,251.15 441.00,251.49 441.25,251.12 441.50,251.19 441.75,251.48 442.00,251.29 442.25,251.04 442.50,251.31 442.75,251.21 443.00,251.03 443.25,251.51 443.50,251.54 443.75,251.33 444.00,251.33 444.25,251.13 444.50,251.42 444.75,251.28 445.00,251.20 445.25,251.37 445.50,251.01 445.75,251.23 446.00,251.52 446.25,251.09 446.50,251.02 446.75,251.23 447.00,251.54 447.25,251.41 447.50,251.51 447.75,251.34 448.00,251.33 448.25,251.14 448.50,251.22 448.75,251.22 449.00,251.00 449.25,251.52 449.50,251.18 449.75,251.03 450.00,251.05 450.25,251.22 450.50,251.38 450.75,251.20 451.00,251.24 451.25,251.23 451.50,251.23 451.75,251.53 452.00,251.23 452.25,251.00 452.50,251.28 452.75,251.24 453.00,250.52 453.25,251.04 453.50,251.09 453.75,251.18 454.00,251.41 454.25,251.42 454.50,251.24 454.75,251.23 455.00,250.69 455.25,249.87 455.50,248.74 455.75,247.29 456.00,245.50 456.25,247.29 456.50,248.74 456.75,249.87 457.00,250.69 457.25,251.23 457.50,251.00 457.75,251.35 458.00,251.47 458.25,251.13 458.50,251.48 458.75,251.25 459.00,251.06 459.25,251.42 459.50,251.06 459.75,251.55 460.00,251.05 460.25,251.09 460.50,251.17 460.75,250.95 461.00,251.04 461.25,251.36 461.50,251.13 461.75,251.20 462.00,251.40 462.25,251.47 462.50,251.00 462.75,251.12 463.00,251.47 463.25,251.08 463.50,251.49 463.75,251.07 464.00,251.04 464.25,251.48 464.50,251.00 464.75,251.50 465.00,251.49 465.25,251.50 465.50,251.13 465.75,251.29 466.00,251.53 466.25,251.40 466.50,251.10 466.75,251.21 467.00,251.47 467.25,251.36 467.50,251.08 467.75,251.34 468.00,251.00 468.25,251.24 468.50,250.96 468.75,251.26 469.00,251.00 469.25,251.38 469.50,251.23 469.75,251.45 470.00,250.91 470.25,251.30 470.50,250.97 470.75,251.47 471.00,251.07 471.25,251.12 471.50,251.22 471.75,251.26 472.00,250.96 472.25,250.95 472.50,250.92 472.75,250.95 473.00,250.98 473.25,249.63 473.50,251.01 473.75,251.00 474.00,251.05 474.25,251.28 474.50,251.02 474.75,251.49 475.00,251.40 475.25,251.27 475.50,250.96 475.75,251.13 476.00,251.48 476.25,251.20 476.50,251.25 476.75,251.27 477.00,251.27 477.25,250.92 477.50,251.18 477.75,251.38 478.00,251.22 478.25,250.89 478.50,251.41 478.75,251.44 479.00,251.02 479.25,251.39 479.50,251.25 479.75,251.19 480.00,251.50 480.25,251.08 480.50,250.92 480.75,251.34 481.00,251.17 481.25,251.40 481.50,250.11 481.75,251.12 482.00,251.24 482.25,251.42 482.50,250.98 482.75,251.05 483.00,250.99 483.25,251.09 483.50,251.16 483.75,250.87 484.00,251.18 484.25,251.48 484.50,251.39 484.75,251.54 485.00,250.94 485.25,251.04 485.50,251.39 485.75,251.34 486.00,251.30 486.25,251.14 486.50,250.85 486.75,249.53 487.00,249.85 487.25,248.23 487.50,246.00 487.75,248.23 488.00,249.85 488.25,250.91 488.50,251.39 488.75,251.55 489.00,251.07 489.25,251.09 489.50,251.02 489.75,251.40 490.00,251.12 490.25,250.68 490.50,250.01 490.75,249.14 491.00,248.05 491.25,246.73 491.50,245.18 491.75,243.39 492.00,244.49 492.25,246.14 492.50,247.55 492.75,248.73 493.00,249.69 493.25,250.35 493.50,250.98 493.75,251.23 494.00,251.51 494.25,249.97 494.50,251.35 494.75,251.46 495.00,251.46 495.25,251.36 495.50,251.22 495.75,251.16 496.00,251.01 496.25,250.86 496.50,251.13 496.75,251.30 497.00,250.88 497.25,251.48 497.50,249.83 497.75,251.37 498.00,250.92 498.25,251.17 498.50,251.40 498.75,251.23 499.00,251.41 499.25,251.52 499.50,251.46 499.75,251.15 500.00,250.94 500.25,251.07 500.50,251.45 500.75,250.96 501.00,250.83 501.25,251.24 501.50,251.28 501.75,250.86 502.00,251.13 502.25,251.46 502.50,250.95 502.75,251.08 503.00,250.81 503.25,250.94 503.50,251.30 503.75,251.23 504.00,251.52 504.25,251.25 504.50,251.18 504.75,251.31 505.00,251.53 505.25,251.49 505.50,251.02 505.75,250.78 506.00,250.80 506.25,250.99 506.50,249.68 506.75,251.20 507.00,250.90 507.25,251.53 507.50,251.13 507.75,250.76 508.00,251.38 508.25,250.83 508.50,251.08 508.75,251.22 509.00,251.55 509.25,251.50 509.50,251.47 509.75,250.87 510.00,251.52 510.25,251.15 510.50,251.43 510.75,250.90 511.00,250.84 511.25,251.33 511.50,251.18 511.75,251.09 512.00,251.13 512.25,250.74 512.50,251.54 512.75,251.29 513.00,249.83 513.25,251.15 513.50,250.98 513.75,250.93 514.00,250.95 514.25,251.09 514.50,250.91 514.75,251.27 515.00,250.89 515.25,251.45 515.50,251.46 515.75,250.93 516.00,250.90 516.25,251.08 516.50,251.01 516.75,251.06 517.00,250.92 517.25,251.44 517.50,251.20 517.75,251.08 518.00,251.22 518.25,251.24 518.50,250.39 518.75,251.22 519.00,251.05 519.25,250.04 519.50,250.76 519.75,251.16 520.00,251.50 520.25,250.84 520.50,251.33 520.75,250.87 521.00,251.22 521.25,250.87 521.50,250.82 521.75,251.04 522.00,250.94 522.25,251.43 522.50,250.92 522.75,250.86 523.00,251.14 523.25,250.75 523.50,251.46 523.75,251.19 524.00,250.75 524.25,251.45 524.50,251.25 524.75,251.27 525.00,250.85 525.25,250.93 525.50,250.73 525.75,251.27 526.00,251.45 526.25,251.01 526.50,251.07 526.75,251.06 527.00,251.28 527.25,250.76 527.50,251.33 527.75,251.31 528.00,251.41 528.25,251.16 528.50,251.40 528.75,251.43 529.00,251.26 529.25,250.88 529.50,251.13 529.75,250.87 530.00,251.17 530.25,251.33 530.50,251.08 530.75,251.21 531.00,251.43 531.25,251.23 531.50,251.14 531.75,251.37 532.00,251.25 532.25,250.00 532.50,251.16 532.75,251.32 533.00,250.81 533.25,251.26 533.50,251.29" class="spec"/><path d="M406.60,251.55V242.90 M413.40,251.55V239.30 M413.90,251.55V245.30 M425.00,251.55V249.30 M434.80,251.55V246.30 M436.00,251.55V234.30 M437.40,251.55V245.30 M443.40,251.55V244.30 M474.00,251.55V239.90 M477.60,251.55V208.50 M487.50,251.55V217.90 M491.80,251.55V151.30 M496.60,251.55V246.30 M505.00,251.55V244.70 M508.60,251.55V239.25 M509.08,251.55V236.44 M509.56,251.55V234.01 M510.04,251.55V231.70 M510.52,251.55V229.47 M511.00,251.55V227.30 M514.60,251.55V204.50 M517.00,251.55V188.30 M524.00,251.55V243.30 M526.00,251.55V236.30 M527.00,251.55V247.30 M531.00,251.55V226.30 M481.90,251.55V249.65 M483.40,251.55V248.85 M504.60,251.55V249.45 M425.40,251.55V250.65 M434.20,251.55V250.05 M458.00,251.55V250.55 M462.50,251.55V250.25 M491.00,251.55V250.35 M517.50,251.55V249.85 M521.00,251.55V250.25 M436.00,251.55V246.60 M456.00,251.55V246.10 M487.50,251.55V246.60 M491.80,251.55V243.60" class="pk"/>
<text transform="translate(410.84,227.70) rotate(-90) scale(0.809,1)" x="0" y="0" class="lab">Mg II 279.55</text>
<text transform="translate(423.24,228.20) rotate(-90) scale(0.809,1)" x="0" y="0" class="lab">Mg II 280.27</text>
<text transform="translate(453.74,233.40) rotate(-90) scale(0.809,1)" x="0" y="0" class="lab">Ca I 422.67</text>
<text transform="translate(474.24,194.70) rotate(-90) scale(0.809,1)" x="0" y="0" class="lab">Na I 588.99</text>
<text transform="translate(487.14,197.40) rotate(-90) scale(0.809,1)" x="0" y="0" class="lab">Na I 589.59</text>
<text transform="translate(501.84,172.20) rotate(-90) scale(0.809,1)" x="0" y="0" class="lab">H I 656.29</text>
<text transform="translate(514.44,182.70) rotate(-90) scale(0.809,1)" x="0" y="0" class="lab">K I 766.49</text>
<text transform="translate(525.24,174.20) rotate(-90) scale(0.809,1)" x="0" y="0" class="lab">O I 777.42</text>
<text transform="translate(507.24,219.20) rotate(-90) scale(0.809,1)" x="0" y="0" class="lab">N I 746.83</text>
<text transform="translate(525.44,220.00) rotate(-90) scale(0.809,1)" x="0" y="0" class="lab">N I 821.63</text>
<text transform="translate(532.24,209.70) rotate(-90) scale(0.809,1)" x="0" y="0" class="lab">O I 844.68</text>
<line x1="409.40" y1="229.00" x2="410.45" y2="232.81" class="ash"/><polygon points="412.00,238.40 409.20,233.16 411.71,232.46" class="ahd"/>
<line x1="419.60" y1="230.00" x2="417.75" y2="234.61" class="ash"/><polygon points="415.60,240.00 416.55,234.13 418.96,235.10" class="ahd"/>
<line x1="450.00" y1="234.40" x2="447.59" y2="239.21" class="ash"/><polygon points="445.00,244.40 446.43,238.63 448.76,239.79" class="ahd"/>
<line x1="472.60" y1="197.00" x2="474.13" y2="201.51" class="ash"/><polygon points="476.00,207.00 472.90,201.93 475.36,201.09" class="ahd"/>
<line x1="484.40" y1="199.00" x2="482.34" y2="203.69" class="ash"/><polygon points="480.00,209.00 481.15,203.17 483.53,204.21" class="ahd"/>
<line x1="499.00" y1="174.00" x2="496.83" y2="180.50" class="ash"/><polygon points="495.00,186.00 495.60,180.09 498.07,180.91" class="ahd"/>
<line x1="511.00" y1="183.50" x2="512.36" y2="190.31" class="ash"/><polygon points="513.50,196.00 511.09,190.57 513.64,190.06" class="ahd"/>
<line x1="522.50" y1="175.50" x2="520.41" y2="181.52" class="ash"/><polygon points="518.50,187.00 519.18,181.09 521.63,181.95" class="ahd"/>
<line x1="505.00" y1="220.00" x2="507.41" y2="224.81" class="ash"/><polygon points="510.00,230.00 506.24,225.39 508.57,224.23" class="ahd"/>
<line x1="523.00" y1="221.00" x2="524.14" y2="225.39" class="ash"/><polygon points="525.60,231.00 522.88,225.71 525.40,225.06" class="ahd"/>
<line x1="529.40" y1="211.00" x2="530.02" y2="217.23" class="ash"/><polygon points="530.60,223.00 528.73,217.36 531.32,217.10" class="ahd"/>
<line x1="393.1" y1="141.7" x2="409.5" y2="141.7" class="lg"/>
<text x="414.0" y="144.4" textLength="52.4" lengthAdjust="spacingAndGlyphs" class="ttl">Chicken breast</text>
<text transform="translate(374.6,193.20) rotate(-90)" text-anchor="middle" textLength="59.5" lengthAdjust="spacingAndGlyphs" class="axl">Intensity(counts,×10<tspan dy="-2.2" font-size="4">4</tspan><tspan dy="2.2">)</tspan></text>
<text x="465.0" y="272.4" text-anchor="middle" textLength="48.5" lengthAdjust="spacingAndGlyphs" class="xl">Wavelength (nm)</text>
</g>
</svg></body></html>
